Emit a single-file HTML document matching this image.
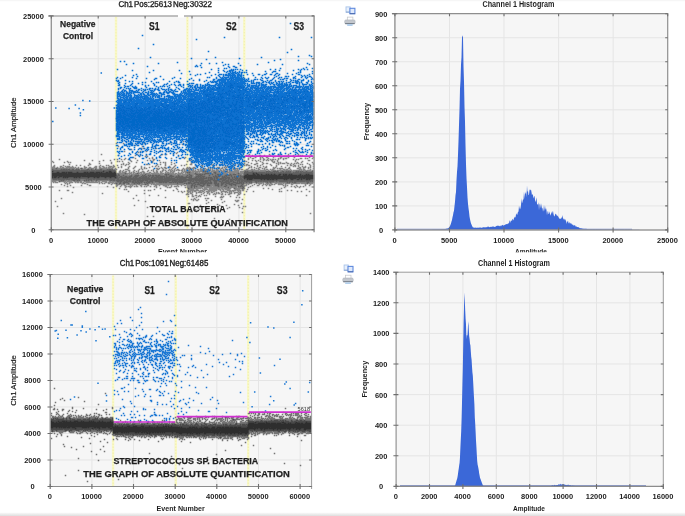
<!DOCTYPE html>
<html lang="en"><head><meta charset="utf-8"><title>ddPCR absolute quantification</title>
<style>html,body{margin:0;padding:0;background:#fff}body{width:685px;height:516px;overflow:hidden}svg{display:block}</style>
</head><body>
<svg width="685" height="516" viewBox="0 0 685 516" font-family='"Liberation Sans", Arial, sans-serif'><defs><filter id="b" x="-2%" y="-2%" width="104%" height="104%"><feGaussianBlur stdDeviation="0.45"/></filter><filter id="b2" x="-20%" y="-20%" width="140%" height="140%"><feGaussianBlur stdDeviation="0.6"/></filter><clipPath id="ct"><rect x="0" y="0" width="685" height="252.3"/></clipPath></defs>
<rect x="51.3" y="15.9" width="262.8" height="213.9" fill="#f6f6f6"/>
<path d="M98.2 15.9V229.8M145.1 15.9V229.8M192 15.9V229.8M238.9 15.9V229.8M285.8 15.9V229.8M51.3 187H314.1M51.3 144.2H314.1M51.3 101.5H314.1M51.3 58.7H314.1" stroke="#e5e5e5" stroke-width="1" fill="none"/>
<path d="M116 16.9V229.3" stroke="#fafac8" stroke-width="2.4" fill="none"/>
<path d="M116 16.9V229.3" stroke="#ede8a4" stroke-width="0.7" stroke-dasharray="1.5 1.5" fill="none"/>
<path d="M187.4 16.9V229.3" stroke="#fafac8" stroke-width="2.4" fill="none"/>
<path d="M187.4 16.9V229.3" stroke="#ede8a4" stroke-width="0.7" stroke-dasharray="1.5 1.5" fill="none"/>
<path d="M244.3 16.9V229.3" stroke="#fafac8" stroke-width="2.4" fill="none"/>
<path d="M244.3 16.9V229.3" stroke="#ede8a4" stroke-width="0.7" stroke-dasharray="1.5 1.5" fill="none"/>
<g filter="url(#b)">
<path d="M163.5 105.5h0M135.5 133.5h0M167.5 135.5h0M147.5 137.5h0M138.5 139.5h0M183.5 141.5h0M137.5 142.5h0m34 0h0M116.5 143.5h0m7 0h0m21 0h0m25 0h0M129.5 144.5h0m53 0h0M135.5 145.5h0M118.5 146.5h0m24 0h0M152.5 147.5h0M141.5 148.5h0m2 0h0m13 0h0M131.5 149.5h0M160.5 150.5h0M124.5 151.5h0m16 0h0m6 0h0m23 0h0m71 0h0M138.5 152.5h0m39 0h0M176.5 153.5h0M101.5 154.5h0m36 0h0m25 0h0m3 0h1m7 0h0m76 0h0m20 0h0m9 0h0m2 0h0m8 0h0m10 0h0m12 0h0M118.5 155.5h0m17 0h0m5 0h0m6 0h0m14 0h0m50 0h0m27 0h0m9 0h0m2 0h0m4 0h0m7 0h1m4 0h0m6 0h0m8 0h1m9 0h0m5 0h0m5 0h0m2 0h0m2 0h0m9 0h0M145.5 156.5h0m2 0h0m31 0h0m20 0h0m50 0h0m6 0h2m4 0h0m15 0h0m9 0h0m2 0h1m6 0h0m12 0h0M133.5 157.5h0m19 0h0m33 0h0m7 0h0m52 0h0m6 0h0m5 0h0m5 0h0m2 0h0m4 0h1m6 0h0m7 0h1m7 0h0m6 0h0m15 0h0m4 0h0M125.5 158.5h0m10 0h0m14 0h0m3 0h0m19 0h0m13 0h0m23 0h0m41 0h0m4 0h1m7 0h0m3 0h0m5 0h0m10 0h0m2 0h0m3 0h0m2 0h1m14 0h1m4 0h0m2 0h0m5 0h0M59.5 159.5h0m55 0h0m3 0h0m4 0h0m3 0h0m4 0h0m25 0h1m55 0h0m22 0h0m17 0h0m12 0h0m3 0h1m3 0h0m3 0h0m2 0h1m2 0h0m3 0h0m5 0h0m10 0h0m3 0h0m2 0h0M84.5 160.5h0m8 0h0m11 0h0m7 0h0m20 0h0m7 0h0m10 0h0m3 0h0m3 0h0m6 0h0m30 0h1m2 0h0m8 0h0m5 0h0m39 0h0m8 0h0m3 0h0m3 0h0m5 0h0m3 0h0m2 0h0m3 0h1m5 0h0m18 0h0m13 0h1M52.5 161.5h0m15 0h0m32 0h0m18 0h0m2 0h0m3 0h0m9 0h0m21 0h0m35 0h0m9 0h1m12 0h0m2 0h0m11 0h0m22 0h0m2 0h0m10 0h0m4 0h0m12 0h0m2 0h0m3 0h0m18 0h0m7 0h0M53.5 162.5h0m11 0h0m4 0h0m2 0h0m41 0h0m17 0h0m8 0h0m16 0h0m8 0h0m3 0h0m2 0h0m6 0h0m20 0h0m2 0h0m9 0h0m14 0h0m13 0h1m18 0h0m14 0h0m11 0h1m4 0h0m2 0h0m6 0h0m11 0h0m4 0h0m11 0h0M89.5 163.5h0m10 0h0m12 0h0m12 0h0m6 0h0m36 0h0m9 0h0m17 0h0m15 0h0m2 0h0m14 0h0m4 0h0m3 0h0m3 0h0m12 0h0m7 0h0m5 0h1m6 0h0m3 0h1m9 0h0m2 0h0m2 0h0m2 0h2m3 0h1m3 0h0m3 0h0m2 0h0m2 0h0m9 0h0m6 0h0M69.5 164.5h0m20 0h1m31 0h0m2 0h0m3 0h0m2 0h0m18 0h1m2 0h0m8 0h0m3 0h0m5 0h0m6 0h0m15 0h0m4 0h1m16 0h0m4 0h0m2 0h0m7 0h0m2 0h0m11 0h0m2 0h0m3 0h1m2 0h0m5 0h1m7 0h1m7 0h0m8 0h0m8 0h0m12 0h0m3 0h0m7 0h0m2 0h0m7 0h0m4 0h0M54.5 165.5h0m9 0h0m13 0h0m4 0h0m8 0h0m12 0h0m6 0h0m2 0h0m5 0h0m4 0h0m8 0h0m31 0h0m9 0h0m10 0h0m6 0h0m3 0h0m11 0h1m5 0h1m5 0h0m5 0h0m4 0h0m7 0h0m12 0h0m5 0h0m2 0h0m2 0h0m2 0h0m2 0h1m8 0h0m3 0h0m11 0h0m5 0h0m11 0h0m3 0h1m3 0h1m3 0h0m12 0h0M53.5 166.5h1m6 0h1m4 0h0m2 0h2m3 0h0m12 0h0m11 0h1m3 0h0m3 0h1m6 0h2m2 0h1m7 0h0m8 0h0m6 0h0m6 0h0m11 0h0m3 0h0m3 0h0m11 0h0m5 0h0m28 0h0m11 0h0m12 0h0m2 0h4m2 0h0m18 0h0m6 0h0m6 0h0m3 0h0m10 0h0m5 0h0m12 0h0m2 0h0m3 0h0m4 0h0m3 0h0m5 0h0m3 0h0M52.5 167.5h2m3 0h0m3 0h0m2 0h1m3 0h7m2 0h0m3 0h0m6 0h2m3 0h1m4 0h2m3 0h1m3 0h1m2 0h0m2 0h2m2 0h1m5 0h0m3 0h0m7 0h0m6 0h0m7 0h0m3 0h0m5 0h0m12 0h0m3 0h1m3 0h2m3 0h0m14 0h0m2 0h0m4 0h1m7 0h1m6 0h0m2 0h0m3 0h1m3 0h2m3 0h0m2 0h0m2 0h0m5 0h1m8 0h0m9 0h0m2 0h0m3 0h0m5 0h1m5 0h1m7 0h0m2 0h0m10 0h0m4 0h0m10 0h1m3 0h2m3 0h0m2 0h0M52.5 168.5h15m2 0h5m2 0h2m2 0h2m2 0h1m3 0h5m2 0h1m3 0h7m2 0h1m2 0h1m3 0h0m13 0h0m5 0h0m8 0h0m3 0h0m2 0h0m10 0h1m2 0h0m3 0h0m3 0h1m6 0h0m3 0h0m8 0h0m3 0h2m2 0h0m2 0h1m2 0h0m5 0h0m4 0h1m3 0h0m2 0h0m2 0h0m2 0h0m5 0h0m2 0h1m3 0h0m5 0h0m3 0h4m2 0h0m9 0h0m8 0h0m2 0h0m4 0h0m2 0h0m9 0h1m3 0h0m2 0h3m6 0h1m8 0h1m2 0h0m3 0h0m5 0h0m5 0h0M52.5 169.5h21m2 0h4m2 0h12m2 0h17m2 0h2m9 0h2m12 0h0m3 0h0m11 0h0m4 0h1m5 0h0m6 0h0m2 0h0m3 0h0m3 0h1m4 0h0m2 0h0m2 0h1m2 0h1m3 0h0m4 0h1m2 0h4m2 0h2m2 0h0m2 0h0m4 0h1m3 0h0m3 0h0m2 0h0m2 0h0m2 0h0m2 0h0m2 0h2m2 0h0m2 0h0m2 0h1m4 0h1m4 0h1m2 0h0m4 0h1m5 0h0m2 0h1m3 0h0m2 0h1m7 0h0m3 0h1m2 0h1m3 0h0m9 0h2m2 0h1m6 0h0M52.5 170.5h63m5 0h0m3 0h0m5 0h1m5 0h0m4 0h0m10 0h0m3 0h0m2 0h0m3 0h0m6 0h1m2 0h0m3 0h0m2 0h0m2 0h0m2 0h0m2 0h0m2 0h1m2 0h1m2 0h0m2 0h3m2 0h2m2 0h0m3 0h0m2 0h8m2 0h0m2 0h2m2 0h2m2 0h1m2 0h1m3 0h0m2 0h2m3 0h4m6 0h14m2 0h5m3 0h0m3 0h4m2 0h5m2 0h5m2 0h0m2 0h6m2 0h0m2 0h2m2 0h3m2 0h1M52.5 171.5h63m4 0h1m2 0h0m3 0h1m3 0h0m4 0h0m3 0h0m2 0h0m4 0h1m4 0h0m6 0h0m3 0h1m3 0h0m2 0h0m4 0h0m4 0h1m2 0h1m8 0h0m2 0h2m2 0h2m2 0h15m2 0h0m2 0h7m3 0h6m2 0h9m2 0h38m2 0h33M52.5 172.5h63m4 0h1m2 0h3m4 0h0m2 0h0m2 0h1m4 0h0m2 0h1m2 0h1m5 0h1m4 0h0m2 0h1m3 0h1m4 0h0m2 0h1m2 0h0m2 0h1m5 0h0m3 0h0m2 0h0m2 0h8m2 0h2m2 0h0m3 0h3m2 0h4m2 0h6m2 0h4m2 0h11m2 0h2m2 0h69M52.5 173.5h63m2 0h14m2 0h0m2 0h4m2 0h0m2 0h1m2 0h3m2 0h7m2 0h3m2 0h8m2 0h1m2 0h4m3 0h0m2 0h33m2 0h4m3 0h5m2 0h77M52.5 174.5h75m2 0h0m2 0h5m2 0h0m2 0h3m2 0h5m2 0h10m2 0h11m2 0h3m2 0h38m2 0h5m2 0h12m2 0h70M52.5 175.5h67m2 0h19m2 0h51m2 0h118M52.5 176.5h261M52.5 177.5h139m2 0h26m2 0h92M52.5 178.5h134m2 0h125M52.5 179.5h261M52.5 180.5h14m2 0h245M52.5 181.5h3m4 0h6m2 0h4m3 0h4m2 0h1m3 0h5m2 0h2m2 0h1m2 0h1m3 0h4m3 0h1m2 0h201M53.5 182.5h0m2 0h2m7 0h0m2 0h0m3 0h3m3 0h0m2 0h1m2 0h1m2 0h0m3 0h11m2 0h0m2 0h0m4 0h1m2 0h5m2 0h31m2 0h89m2 0h24m2 0h48M65.5 183.5h0m2 0h0m2 0h0m13 0h0m2 0h1m14 0h0m3 0h0m2 0h0m4 0h1m3 0h0m2 0h3m2 0h5m2 0h3m2 0h11m2 0h10m2 0h95m5 0h0m2 0h3m2 0h0m3 0h2m2 0h1m4 0h1m2 0h3m2 0h0m2 0h4m2 0h0m2 0h6m2 0h6m2 0h3M61.5 184.5h0m6 0h0m20 0h0m24 0h0m5 0h3m2 0h3m2 0h10m2 0h1m2 0h7m3 0h0m2 0h30m3 0h57m3 0h0m2 0h0m6 0h0m5 0h0m4 0h0m2 0h0m2 0h0m2 0h0m2 0h1m2 0h0m4 0h4m3 0h0m6 0h1m13 0h0m5 0h0M64.5 185.5h0m6 0h0m11 0h0m8 0h1m26 0h1m4 0h0m3 0h1m5 0h0m2 0h0m4 0h0m4 0h1m6 0h1m7 0h1m3 0h0m4 0h3m2 0h0m3 0h0m6 0h0m4 0h0m3 0h1m2 0h59m6 0h0m5 0h1m4 0h0m4 0h0m3 0h1m13 0h0m2 0h0m2 0h0m9 0h0m9 0h0m4 0h0M67.5 186.5h0m40 0h0m9 0h0m4 0h0m5 0h1m2 0h3m3 0h0m2 0h1m4 0h0m3 0h0m2 0h0m4 0h0m4 0h0m2 0h0m9 0h1m5 0h0m3 0h2m2 0h0m9 0h17m2 0h5m2 0h23m2 0h6m6 0h0m35 0h0m6 0h0m3 0h0m3 0h0m3 0h0m3 0h0M73.5 187.5h0m40 0h0m12 0h0m5 0h0m26 0h0m11 0h0m2 0h1m15 0h0m2 0h5m2 0h0m2 0h5m3 0h19m2 0h3m2 0h6m2 0h5m5 0h0m36 0h0m11 0h0m4 0h0M119.5 188.5h0m41 0h0m16 0h0m12 0h12m2 0h0m2 0h2m3 0h10m2 0h1m2 0h6m4 0h10m19 0h0m5 0h0m13 0h0M124.5 189.5h0m2 0h0m28 0h0m23 0h0m11 0h5m3 0h1m6 0h4m2 0h7m2 0h2m2 0h1m2 0h4m6 0h4m3 0h1m4 0h0m25 0h0m7 0h0m27 0h0M59.5 190.5h0m8 0h1m76 0h0m4 0h0m2 0h0m15 0h0m8 0h0m14 0h1m2 0h8m2 0h2m2 0h0m4 0h8m4 0h0m3 0h0m4 0h3m2 0h3m2 0h3m2 0h1m44 0h0m4 0h0M128.5 191.5h0m50 0h0m3 0h0m3 0h0m3 0h3m2 0h0m2 0h1m4 0h1m2 0h1m3 0h3m2 0h0m2 0h1m7 0h5m3 0h2m2 0h0m5 0h0m2 0h0m6 0h0m7 0h0m26 0h0m2 0h0m16 0h0m4 0h0m8 0h0M72.5 192.5h0m110 0h0m6 0h0m2 0h0m2 0h0m4 0h0m2 0h3m3 0h0m3 0h1m3 0h1m4 0h0m2 0h0m3 0h0m4 0h0m2 0h0m2 0h0m2 0h0m3 0h3m2 0h1M102.5 193.5h0m42 0h0m43 0h0m3 0h1m5 0h0m7 0h0m4 0h0m2 0h0m5 0h0m2 0h0m2 0h1m3 0h0m7 0h2m3 0h0m4 0h0m2 0h0M186.5 194.5h2m4 0h0m9 0h0m8 0h0m4 0h0m2 0h0m6 0h1m3 0h0m3 0h1m9 0h1m5 0h0M136.5 195.5h0m13 0h0m9 0h0m34 0h0m3 0h1m3 0h0m5 0h0m2 0h0m31 0h0m69 0h0M188.5 196.5h0m4 0h1m5 0h0m2 0h0m15 0h0m6 0h0m2 0h0m7 0h0M165.5 197.5h0m31 0h0m24 0h2m14 0h0m3 0h0M61.5 198.5h0m72 0h0m61 0h0m11 0h0m2 0h1M191.5 199.5h0m2 0h0m2 0h0m3 0h0m23 0h0m21 0h0M138.5 200.5h0m55 0h0m3 0h1m9 0h0m5 0h0m24 0h0m2 0h1M55.5 201.5h0m90 0h0m79 0h0m12 0h1M208.5 202.5h0m14 0h0M188.5 203.5h1m17 0h0m35 0h0M217.5 204.5h0m17 0h0M134.5 205.5h0m66 0h0m19 0h0m7 0h0m12 0h0M57.5 206.5h0m137 0h0m3 0h0m17 0h0m7 0h0m22 0h0m2 0h0M147.5 207.5h0m65 0h0m17 0h0m10 0h0M198.5 208.5h0m29 0h0m15 0h0M195.5 209.5h0m4 0h0m24 0h0M211.5 210.5h0m7 0h0M190.5 211.5h0M242.5 212.5h0M63.5 213.5h0m247 0h0M84.5 214.5h0M147.5 216.5h0m6 0h0M214.5 218.5h0M229.5 219.5h0M132.5 222.5h0m17 0h0m28 0h0M241.5 223.5h0M191.5 224.5h0M274.5 225.5h0" stroke="#868686" stroke-width="1.6" stroke-linecap="square" fill="none"/>
<path d="M56.5 168.5h0m25 0h0m109 0h0M52.5 169.5h0m9 0h0m2 0h1m2 0h0m2 0h1m3 0h1m3 0h0m2 0h0m9 0h1m3 0h0m4 0h0m5 0h1m6 0h0m2 0h1m2 0h0M53.5 170.5h14m2 0h10m2 0h6m2 0h0m2 0h3m2 0h5m2 0h11M52.5 171.5h63m88 0h0m2 0h0m2 0h0m19 0h0m19 0h0m2 0h0m5 0h0m14 0h1m2 0h0m4 0h2m2 0h0m5 0h1m3 0h0m2 0h0m2 0h0m6 0h0m2 0h0m2 0h0m2 0h0m4 0h0m6 0h0M52.5 172.5h63m72 0h0m2 0h0m25 0h1m29 0h12m2 0h6m2 0h0m2 0h0m2 0h2m2 0h0m2 0h0m2 0h0m2 0h1m2 0h0m2 0h5m3 0h0m2 0h3m2 0h1m2 0h8m2 0h0M52.5 173.5h63m10 0h0m12 0h0m58 0h0m10 0h3m2 0h0m5 0h0m23 0h0m6 0h69M52.5 174.5h63m3 0h0m27 0h0m20 0h1m2 0h0m21 0h0m7 0h1m2 0h1m2 0h0m2 0h0m8 0h0m5 0h1m2 0h0m7 0h0m3 0h0m3 0h2m9 0h69M52.5 175.5h64m2 0h1m4 0h0m8 0h0m4 0h3m4 0h0m2 0h0m4 0h0m2 0h0m2 0h1m2 0h1m2 0h1m7 0h0m4 0h1m7 0h0m9 0h0m3 0h1m7 0h0m2 0h1m8 0h0m6 0h0m3 0h0m2 0h0m5 0h1m2 0h1m2 0h0m7 0h0m2 0h0m4 0h69M52.5 176.5h65m3 0h1m4 0h1m3 0h2m3 0h3m4 0h0m2 0h0m2 0h1m3 0h0m3 0h1m3 0h2m2 0h4m2 0h0m3 0h4m3 0h0m2 0h1m2 0h1m4 0h0m3 0h0m2 0h0m5 0h4m2 0h2m9 0h0m2 0h1m2 0h1m3 0h0m2 0h0m2 0h0m5 0h0m3 0h0m2 0h0m2 0h0m2 0h73M52.5 177.5h65m2 0h0m2 0h9m3 0h0m2 0h1m3 0h1m2 0h4m2 0h0m3 0h1m2 0h8m2 0h0m2 0h3m2 0h0m4 0h16m4 0h1m2 0h0m2 0h1m2 0h0m3 0h0m2 0h3m3 0h0m2 0h1m5 0h3m2 0h2m3 0h0m2 0h0m2 0h1m3 0h0m2 0h71M52.5 178.5h15m2 0h19m2 0h28m3 0h4m2 0h22m2 0h0m2 0h3m2 0h4m2 0h10m3 0h0m2 0h6m4 0h8m2 0h7m2 0h0m2 0h2m2 0h0m2 0h1m3 0h3m2 0h1m2 0h1m3 0h0m3 0h2m2 0h2m3 0h69M53.5 179.5h3m2 0h6m2 0h3m2 0h5m2 0h1m7 0h0m2 0h3m2 0h1m2 0h11m2 0h5m3 0h1m2 0h7m2 0h11m2 0h61m5 0h0m2 0h2m2 0h0m3 0h4m2 0h2m3 0h0m2 0h1m2 0h1m2 0h0m2 0h4m2 0h69M61.5 180.5h0m2 0h0m10 0h1m3 0h0m2 0h0m5 0h0m2 0h0m2 0h0m3 0h0m5 0h0m14 0h1m2 0h1m2 0h7m3 0h1m2 0h1m3 0h2m2 0h6m2 0h2m3 0h12m2 0h6m2 0h5m2 0h2m2 0h3m2 0h3m2 0h0m2 0h8m2 0h5m3 0h5m4 0h2m2 0h2m2 0h2m3 0h0m2 0h2m2 0h72M59.5 181.5h0m58 0h1m2 0h1m3 0h0m2 0h0m2 0h2m2 0h1m2 0h0m2 0h1m2 0h2m5 0h0m2 0h3m3 0h13m4 0h0m2 0h2m2 0h7m5 0h0m2 0h1m3 0h0m3 0h0m2 0h6m3 0h0m4 0h2m3 0h1m2 0h0m3 0h3m2 0h1m2 0h0m4 0h0m2 0h0m2 0h1m2 0h7m4 0h1m2 0h0m2 0h1m2 0h4m2 0h4m3 0h0m3 0h8m2 0h3m2 0h10m2 0h2m2 0h0m2 0h0M120.5 182.5h0m3 0h4m5 0h1m2 0h1m2 0h1m2 0h0m3 0h0m2 0h0m2 0h1m3 0h0m7 0h2m2 0h0m2 0h1m3 0h2m2 0h0m2 0h0m2 0h0m2 0h3m6 0h2m4 0h4m2 0h3m2 0h1m2 0h0m2 0h1m3 0h2m5 0h0m2 0h3m2 0h1m4 0h2m2 0h0m2 0h2m2 0h0m3 0h0m3 0h0m2 0h0m5 0h0m11 0h0m3 0h0m17 0h0m2 0h0m3 0h0m2 0h1m12 0h1M116.5 183.5h0m3 0h1m3 0h1m4 0h0m6 0h0m3 0h0m2 0h0m8 0h0m30 0h0m7 0h0m2 0h0m2 0h1m2 0h0m2 0h1m4 0h0m2 0h5m2 0h4m3 0h2m2 0h0m3 0h2m3 0h3m2 0h1m4 0h3m2 0h0m2 0h0m64 0h0M145.5 184.5h0m47 0h0m3 0h0m2 0h2m4 0h1m3 0h0m8 0h0m2 0h1m3 0h1m3 0h0m4 0h2m2 0h2m7 0h0M191.5 185.5h1m2 0h0m6 0h1m2 0h0m4 0h2m6 0h3m3 0h0m5 0h0m5 0h0m4 0h0m6 0h0M191.5 186.5h0m3 0h0m2 0h0m6 0h0m16 0h0m6 0h1m13 0h0m2 0h0m2 0h0M191.5 187.5h0m3 0h0m34 0h0m15 0h0M188.5 188.5h0m46 0h0m8 0h0" stroke="#606060" stroke-width="1.6" stroke-linecap="square" fill="none"/>
<path d="M52.5 171.5h0m51 0h0m6 0h1M57.5 172.5h1m4 0h2m2 0h0m2 0h3m6 0h0m7 0h1m2 0h0m3 0h3m3 0h3m2 0h0m5 0h1m2 0h2m3 0h0M52.5 173.5h14m2 0h29m2 0h16m138 0h0m3 0h0M52.5 174.5h63m132 0h0m6 0h1m3 0h1m3 0h0m5 0h0m2 0h0m3 0h0m3 0h0m5 0h1m3 0h0m2 0h1m3 0h0m2 0h0m9 0h0m6 0h0m2 0h0M52.5 175.5h33m2 0h28m130 0h1m2 0h7m2 0h2m2 0h15m2 0h1m4 0h3m2 0h8m2 0h2m2 0h0m2 0h9M52.5 176.5h0m2 0h2m3 0h2m2 0h17m2 0h17m2 0h13m130 0h69M52.5 177.5h0m2 0h1m3 0h0m5 0h0m2 0h0m2 0h0m7 0h0m2 0h0m3 0h0m9 0h0m6 0h0m3 0h1m7 0h0m5 0h0m5 0h0m129 0h38m2 0h29M244.5 178.5h0m3 0h5m2 0h15m2 0h17m2 0h5m4 0h0m2 0h0m2 0h1m2 0h7M247.5 179.5h0m2 0h2m10 0h0m3 0h0m3 0h1m2 0h0m2 0h1m3 0h0m8 0h0m2 0h0m5 0h1m5 0h1m3 0h0m5 0h1m2 0h0" stroke="#383838" stroke-width="1.6" stroke-linecap="square" fill="none"/>
<path d="M290.5 23.5h0M142.5 35.5h0M224.5 37.5h0m55 0h0m32 0h0M196.5 39.5h0M153.5 44.5h0M138.5 48.5h0M291.5 49.5h0M208.5 51.5h0M287.5 52.5h0M309.5 55.5h0M298.5 56.5h0m13 0h0M150.5 57.5h0m65 0h0m46 0h0M191.5 58.5h0m48 0h0M206.5 59.5h0m74 0h0M274.5 60.5h0m24 0h0M120.5 61.5h0m4 0h0M177.5 62.5h0m45 0h0m46 0h0M133.5 63.5h0m25 0h0m43 0h0m8 0h0m7 0h0m22 0h0m69 0h0M126.5 64.5h0m99 0h0m3 0h0m29 0h0m25 0h0m27 0h0M196.5 65.5h0m4 0h0m23 0h0m17 0h0M147.5 66.5h0m48 0h0m2 0h0m31 0h0m5 0h1M201.5 67.5h0m28 0h0m6 0h1m70 0h0M218.5 68.5h0m6 0h0m2 0h0m54 0h0m23 0h0m9 0h0M117.5 69.5h0m94 0h0m20 0h0m2 0h0m2 0h0m2 0h0m3 0h0m30 0h0m5 0h0m23 0h0m3 0h0m3 0h0m3 0h0M132.5 70.5h0m21 0h0m26 0h0m39 0h0m5 0h0m6 0h4m9 0h0m4 0h0m33 0h0m14 0h0m7 0h0M189.5 71.5h0m35 0h0m3 0h0m2 0h1m2 0h0m3 0h0m4 0h0m26 0h0m8 0h2m25 0h0m12 0h0M149.5 72.5h0m60 0h0m9 0h0m8 0h0m4 0h0m2 0h3m2 0h0m2 0h0m2 0h1m2 0h0m2 0h0m26 0h0m26 0h0m2 0h0M181.5 73.5h0m24 0h0m23 0h1m2 0h2m2 0h1m2 0h0m3 0h0m11 0h0m14 0h0m10 0h1m10 0h0m9 0h0m16 0h0M136.5 74.5h0m54 0h0m7 0h0m3 0h0m15 0h0m4 0h2m2 0h0m2 0h1m2 0h2m2 0h2m3 0h2m2 0h0m6 0h0m11 0h1m5 0h1m5 0h1m4 0h0m4 0h0m13 0h0m6 0h1m10 0h0M125.5 75.5h0m8 0h0m62 0h0m16 0h0m7 0h0m5 0h0m2 0h10m2 0h4m2 0h0m10 0h0m9 0h0m12 0h0m4 0h0m23 0h0m3 0h0m3 0h0M137.5 76.5h0m23 0h0m59 0h0m4 0h0m5 0h0m2 0h0m2 0h0m2 0h1m2 0h1m2 0h1m35 0h0m9 0h1m2 0h0m7 0h0m7 0h0m3 0h0m4 0h1M117.5 77.5h0m5 0h0m10 0h0m42 0h0m33 0h0m2 0h0m7 0h0m4 0h0m2 0h0m2 0h4m2 0h9m2 0h0m2 0h0m12 0h0m6 0h0m4 0h0m3 0h0m6 0h0m5 0h0m2 0h0m12 0h1m7 0h0m4 0h0m2 0h0m4 0h0M116.5 78.5h0m4 0h0m16 0h0m10 0h0m9 0h1m16 0h0m8 0h0m11 0h0m25 0h0m5 0h2m2 0h1m3 0h4m2 0h7m2 0h0m4 0h0m14 0h0m4 0h1m6 0h0m5 0h0m6 0h0m2 0h1m6 0h0m2 0h0m11 0h0m6 0h0M154.5 79.5h0m9 0h0m26 0h0m10 0h0m14 0h1m4 0h11m2 0h0m2 0h11m2 0h0m2 0h0m6 0h1m2 0h0m3 0h0m12 0h0m8 0h0m2 0h1m7 0h0m8 0h1m4 0h0m8 0h0m2 0h0M116.5 80.5h0m2 0h0m7 0h0m68 0h0m6 0h0m7 0h0m7 0h0m4 0h8m2 0h1m2 0h3m2 0h7m2 0h1m2 0h0m4 0h0m2 0h0m8 0h1m5 0h0m3 0h1m4 0h0m11 0h0m5 0h0m2 0h0m2 0h0m2 0h0m4 0h2m5 0h0M117.5 81.5h1m11 0h0m3 0h0m19 0h0m18 0h0m7 0h0m2 0h0m9 0h0m17 0h0m6 0h0m2 0h0m2 0h3m2 0h0m2 0h4m2 0h11m2 0h6m2 0h1m2 0h0m2 0h0m10 0h0m2 0h0m4 0h0m6 0h0m3 0h1m2 0h0m2 0h0m7 0h0m5 0h3m3 0h0m7 0h0m3 0h0M119.5 82.5h0m23 0h0m3 0h0m11 0h0m2 0h0m16 0h0m4 0h1m29 0h0m3 0h2m2 0h1m3 0h17m2 0h6m7 0h0m2 0h0m3 0h3m3 0h1m3 0h0m2 0h1m2 0h0m2 0h0m3 0h0m3 0h0m3 0h0m4 0h0m2 0h1m3 0h1m2 0h2m2 0h0m2 0h0m5 0h1m4 0h0M118.5 83.5h0m7 0h0m7 0h0m6 0h0m15 0h0m14 0h0m22 0h0m2 0h2m14 0h0m9 0h1m2 0h3m2 0h21m2 0h0m4 0h3m2 0h0m2 0h1m2 0h0m8 0h0m2 0h1m4 0h1m2 0h0m2 0h1m2 0h0m2 0h0m4 0h0m6 0h1m2 0h0m3 0h0m5 0h0m5 0h1M119.5 84.5h0m12 0h0m11 0h0m12 0h0m10 0h0m2 0h0m5 0h0m3 0h0m5 0h1m3 0h0m4 0h1m8 0h1m3 0h0m5 0h0m2 0h2m6 0h1m2 0h2m2 0h0m2 0h18m2 0h0m3 0h0m2 0h0m7 0h0m3 0h0m2 0h2m2 0h1m4 0h0m3 0h1m2 0h0m2 0h4m2 0h3m2 0h1m9 0h0m3 0h4m3 0h0m2 0h0M118.5 85.5h1m5 0h0m6 0h0m15 0h0m3 0h0m6 0h0m9 0h0m6 0h0m6 0h0m3 0h0m2 0h0m3 0h0m6 0h1m2 0h0m3 0h0m2 0h0m3 0h0m2 0h1m2 0h2m2 0h6m2 0h26m2 0h0m2 0h2m2 0h5m2 0h1m2 0h4m9 0h0m3 0h2m2 0h6m2 0h0m2 0h0m2 0h3m3 0h0m4 0h0m6 0h1m2 0h0M125.5 86.5h0m2 0h1m4 0h0m3 0h0m10 0h0m11 0h0m4 0h0m2 0h0m2 0h0m3 0h0m14 0h0m7 0h0m2 0h1m3 0h1m2 0h0m3 0h0m2 0h0m2 0h1m3 0h1m2 0h0m2 0h2m3 0h3m2 0h1m2 0h18m3 0h2m2 0h2m2 0h3m3 0h0m2 0h3m2 0h0m2 0h5m3 0h6m2 0h0m2 0h3m2 0h0m3 0h5m2 0h0m2 0h3m2 0h1m2 0h0M120.5 87.5h1m3 0h0m9 0h3m10 0h0m12 0h0m11 0h0m7 0h0m7 0h0m7 0h0m2 0h0m2 0h1m2 0h8m2 0h3m2 0h1m2 0h18m2 0h9m2 0h1m3 0h5m2 0h1m2 0h5m2 0h4m2 0h10m3 0h3m3 0h1m2 0h5m2 0h0m2 0h4m2 0h0m2 0h1M118.5 88.5h0m2 0h0m6 0h0m2 0h0m2 0h0m4 0h2m5 0h0m8 0h1m2 0h0m3 0h0m3 0h0m3 0h0m7 0h0m10 0h0m8 0h1m2 0h0m3 0h0m3 0h1m3 0h3m2 0h1m2 0h1m2 0h4m2 0h14m2 0h5m2 0h4m2 0h1m2 0h0m2 0h2m2 0h8m2 0h0m2 0h5m2 0h0m3 0h2m2 0h2m2 0h4m2 0h0m2 0h0m3 0h0m4 0h0m3 0h2m2 0h2m2 0h1m2 0h0M118.5 89.5h0m5 0h0m6 0h0m9 0h1m4 0h0m2 0h0m2 0h0m2 0h0m5 0h1m2 0h1m4 0h2m2 0h0m2 0h0m2 0h1m4 0h0m4 0h0m5 0h2m2 0h3m2 0h0m2 0h1m2 0h0m2 0h0m3 0h1m2 0h23m2 0h1m2 0h5m3 0h8m2 0h0m3 0h3m2 0h0m2 0h1m2 0h3m2 0h2m2 0h7m2 0h1m2 0h1m2 0h3m2 0h2m2 0h8m2 0h2m2 0h0M122.5 90.5h0m2 0h1m4 0h3m4 0h0m2 0h0m3 0h0m3 0h1m5 0h2m2 0h0m4 0h1m6 0h0m3 0h0m3 0h1m2 0h0m9 0h2m2 0h2m2 0h0m3 0h4m2 0h11m2 0h33m3 0h2m2 0h10m2 0h2m2 0h4m2 0h0m2 0h1m2 0h0m2 0h2m2 0h0m2 0h1m2 0h7m2 0h1m2 0h4m3 0h2M118.5 91.5h0m3 0h1m2 0h0m2 0h0m3 0h0m2 0h4m2 0h0m6 0h0m5 0h0m3 0h0m2 0h0m11 0h0m2 0h0m3 0h1m3 0h0m2 0h2m4 0h0m2 0h0m2 0h0m2 0h7m5 0h8m2 0h4m4 0h35m2 0h0m2 0h3m2 0h7m2 0h0m4 0h9m4 0h21m2 0h2M117.5 92.5h1m2 0h0m2 0h1m3 0h1m2 0h2m2 0h6m3 0h0m3 0h1m2 0h0m2 0h2m7 0h1m3 0h1m2 0h3m2 0h2m8 0h0m2 0h3m2 0h2m3 0h4m2 0h0m2 0h0m2 0h20m2 0h24m2 0h15m2 0h10m2 0h2m2 0h12m2 0h15M117.5 93.5h2m2 0h0m2 0h1m2 0h3m2 0h0m2 0h0m7 0h1m2 0h0m4 0h1m3 0h3m2 0h0m3 0h2m2 0h0m4 0h1m4 0h2m6 0h0m2 0h0m2 0h50m2 0h8m2 0h6m2 0h3m2 0h10m4 0h1m2 0h24m2 0h7m2 0h2M117.5 94.5h3m2 0h2m2 0h0m2 0h0m2 0h0m4 0h0m4 0h0m2 0h1m2 0h1m3 0h1m2 0h5m2 0h0m4 0h3m9 0h4m2 0h2m3 0h0m2 0h11m2 0h1m2 0h11m2 0h28m2 0h5m2 0h19m2 0h3m2 0h8m2 0h1m2 0h5m2 0h1m2 0h2m2 0h8M117.5 95.5h0m2 0h0m2 0h5m2 0h3m3 0h3m2 0h0m2 0h0m3 0h2m2 0h1m3 0h2m2 0h0m2 0h1m2 0h0m6 0h2m5 0h1m2 0h6m2 0h1m2 0h6m2 0h5m2 0h12m2 0h39m2 0h5m2 0h2m2 0h33m2 0h6m2 0h1M117.5 96.5h3m3 0h1m2 0h2m2 0h1m3 0h0m2 0h2m2 0h7m3 0h0m2 0h1m2 0h0m2 0h2m2 0h0m3 0h0m2 0h6m2 0h6m2 0h3m2 0h14m2 0h23m2 0h16m2 0h1m2 0h36m2 0h3m2 0h5m2 0h14M117.5 97.5h0m3 0h3m2 0h2m2 0h2m2 0h9m2 0h4m2 0h0m2 0h0m3 0h0m2 0h2m5 0h0m4 0h5m2 0h1m2 0h3m2 0h3m2 0h0m2 0h2m2 0h12m2 0h35m2 0h24m2 0h0m2 0h14m2 0h8m2 0h14M117.5 98.5h1m2 0h0m3 0h1m2 0h1m2 0h4m2 0h3m2 0h0m2 0h9m2 0h0m6 0h5m2 0h0m2 0h0m2 0h6m2 0h3m2 0h2m2 0h48m2 0h14m2 0h1m2 0h25m2 0h29M118.5 99.5h4m2 0h10m2 0h5m2 0h10m2 0h15m2 0h0m2 0h0m2 0h25m2 0h21m2 0h17m2 0h18m2 0h16m2 0h30M117.5 100.5h14m2 0h10m2 0h3m2 0h9m2 0h11m2 0h6m2 0h1m3 0h12m2 0h17m2 0h34m2 0h4m2 0h0m2 0h3m2 0h35m3 0h7M116.5 101.5h0m2 0h3m2 0h3m2 0h30m2 0h7m2 0h2m2 0h2m2 0h2m2 0h1m2 0h0m2 0h12m2 0h11m2 0h99M117.5 102.5h4m2 0h6m2 0h3m2 0h9m2 0h0m2 0h4m2 0h6m3 0h10m2 0h9m2 0h88m2 0h36M118.5 103.5h48m3 0h10m2 0h1m2 0h11m2 0h92m2 0h22M117.5 104.5h20m2 0h39m2 0h70m2 0h20m2 0h5m2 0h4m2 0h0m2 0h2m2 0h2m2 0h0m2 0h8m2 0h4M116.5 105.5h7m2 0h5m2 0h43m2 0h81m2 0h0m2 0h38m2 0h11M117.5 106.5h42m3 0h93m3 0h2m2 0h2m2 0h0m2 0h12m2 0h3m2 0h26M116.5 107.5h25m2 0h3m2 0h7m2 0h4m2 0h21m2 0h57m2 0h9m2 0h42m2 0h7m2 0h3M116.5 108.5h26m2 0h33m2 0h44m2 0h4m2 0h8m2 0h24m2 0h33m2 0h5m2 0h4M117.5 109.5h52m2 0h88m2 0h7m2 0h11m2 0h6m2 0h3m2 0h5m2 0h10M116.5 110.5h138m2 0h7m2 0h7m2 0h9m2 0h12m2 0h1m2 0h11M116.5 111.5h56m2 0h44m2 0h5m2 0h19m2 0h6m2 0h8m2 0h26m2 0h3m2 0h14M116.5 112.5h0m2 0h93m2 0h40m2 0h2m2 0h13m2 0h18m2 0h16m2 0h1M116.5 113.5h175m2 0h4m2 0h5m2 0h0m2 0h0m3 0h2M116.5 114.5h90m2 0h33m2 0h0m2 0h5m2 0h9m2 0h9m2 0h4m2 0h1m2 0h0m4 0h4m2 0h10m2 0h3m2 0h0m2 0h1M116.5 115.5h72m2 0h55m3 0h1m2 0h6m2 0h23m2 0h3m2 0h7m2 0h4m2 0h0m2 0h1m2 0h1m2 0h0M116.5 116.5h107m2 0h22m2 0h7m2 0h5m3 0h6m2 0h2m2 0h16m2 0h3m2 0h2m2 0h6m2 0h0M116.5 117.5h134m2 0h18m2 0h9m2 0h11m2 0h2m2 0h11m2 0h0M116.5 118.5h110m2 0h15m2 0h15m2 0h7m2 0h28m2 0h0m2 0h10M116.5 119.5h105m2 0h28m2 0h0m2 0h6m2 0h1m2 0h1m2 0h8m2 0h16m2 0h5m3 0h6m2 0h0M116.5 120.5h125m2 0h5m2 0h5m2 0h0m2 0h2m2 0h1m2 0h8m2 0h3m3 0h6m3 0h18m3 0h0M116.5 121.5h93m2 0h33m2 0h3m4 0h2m2 0h5m2 0h1m2 0h3m2 0h11m2 0h8m2 0h1m2 0h1m2 0h0m3 0h3m3 0h2M117.5 122.5h93m2 0h6m2 0h30m3 0h5m2 0h2m2 0h11m2 0h2m2 0h9m2 0h0m2 0h13m2 0h4M116.5 123.5h37m2 0h90m2 0h2m2 0h4m2 0h0m2 0h3m2 0h6m3 0h1m3 0h0m2 0h6m2 0h3m2 0h4m2 0h0m3 0h3m2 0h4m3 0h0M116.5 124.5h122m2 0h1m2 0h0m3 0h0m3 0h3m2 0h3m2 0h0m2 0h2m2 0h3m3 0h0m4 0h6m3 0h4m2 0h4m2 0h1m2 0h2m2 0h2m2 0h0m2 0h0m3 0h1M116.5 125.5h128m2 0h3m2 0h4m3 0h3m2 0h0m2 0h1m4 0h4m2 0h6m2 0h1m3 0h7m4 0h1m2 0h1m3 0h1m2 0h1m2 0h0M116.5 126.5h82m2 0h52m2 0h3m2 0h6m2 0h5m3 0h1m2 0h1m4 0h3m3 0h2m2 0h2m3 0h1m3 0h2m2 0h0m2 0h0m4 0h0M116.5 127.5h4m2 0h64m2 0h23m2 0h38m3 0h0m2 0h6m3 0h1m5 0h1m2 0h0m2 0h0m4 0h0m3 0h0m2 0h0m3 0h0m2 0h3m2 0h1m2 0h2m4 0h0m2 0h0m2 0h1m3 0h0M116.5 128.5h128m2 0h3m2 0h1m2 0h1m2 0h1m3 0h3m2 0h0m3 0h0m2 0h0m5 0h2m2 0h4m3 0h2m3 0h0m2 0h1m2 0h1m2 0h0m2 0h0m2 0h4m4 0h0M116.5 129.5h12m2 0h8m2 0h104m2 0h3m2 0h0m2 0h1m6 0h0m3 0h0m7 0h0m2 0h0m2 0h0m2 0h2m3 0h0m2 0h2m4 0h4m4 0h1m5 0h1m3 0h0m3 0h1M116.5 130.5h0m2 0h36m2 0h21m2 0h64m3 0h0m2 0h1m2 0h0m2 0h0m2 0h0m2 0h6m2 0h0m2 0h0m3 0h1m5 0h1m3 0h1m4 0h0m6 0h2m2 0h0m2 0h0m3 0h0m4 0h0m3 0h0m2 0h0M117.5 131.5h3m2 0h13m2 0h9m2 0h38m2 0h56m2 0h1m3 0h5m2 0h1m2 0h0m2 0h0m2 0h2m2 0h1m3 0h0m2 0h1m2 0h0m2 0h4m5 0h0m2 0h2m10 0h0m2 0h0m2 0h0m5 0h1M117.5 132.5h5m2 0h6m2 0h4m2 0h0m2 0h23m2 0h9m2 0h67m5 0h0m4 0h2m2 0h0m4 0h1m2 0h2m2 0h0m9 0h1m4 0h4m2 0h0m6 0h0m3 0h2m3 0h0m2 0h1m2 0h0m3 0h0M117.5 133.5h1m3 0h3m2 0h1m2 0h7m2 0h4m2 0h3m2 0h2m2 0h2m2 0h9m2 0h10m2 0h59m2 0h3m3 0h1m2 0h0m2 0h0m2 0h0m2 0h0m4 0h0m2 0h1m2 0h0m3 0h0m3 0h0m4 0h0m2 0h0m3 0h2m4 0h0m2 0h0m2 0h1m3 0h1m3 0h0m3 0h1m2 0h0m2 0h0m3 0h0M117.5 134.5h2m2 0h3m2 0h6m3 0h9m2 0h0m2 0h8m2 0h0m3 0h1m2 0h0m2 0h5m2 0h1m2 0h9m3 0h28m2 0h25m3 0h2m2 0h1m5 0h1m2 0h1m2 0h0m6 0h1m2 0h0m2 0h2m2 0h4m8 0h1m6 0h1m3 0h1m3 0h0m5 0h0m2 0h0M116.5 135.5h2m4 0h10m2 0h1m3 0h1m4 0h0m2 0h4m2 0h0m2 0h11m3 0h3m3 0h0m3 0h0m4 0h0m2 0h30m2 0h30m6 0h0m3 0h0m3 0h1m4 0h0m11 0h0m3 0h0m4 0h0m3 0h0m4 0h2m4 0h0m2 0h0m2 0h2m3 0h0m3 0h1m2 0h0m4 0h0M116.5 136.5h3m2 0h2m4 0h0m2 0h1m2 0h7m2 0h2m3 0h0m2 0h2m2 0h0m2 0h0m2 0h3m3 0h0m2 0h0m2 0h0m2 0h0m2 0h10m2 0h56m2 0h3m2 0h0m4 0h0m4 0h1m2 0h1m7 0h0m6 0h0m3 0h1m2 0h0m4 0h0m3 0h0m6 0h0m5 0h0m12 0h0M119.5 137.5h0m2 0h3m2 0h1m2 0h5m2 0h0m2 0h1m4 0h0m2 0h3m2 0h1m2 0h2m2 0h3m2 0h1m2 0h5m4 0h3m2 0h0m2 0h0m3 0h0m4 0h29m2 0h15m2 0h8m2 0h0m4 0h0m2 0h0m2 0h0m4 0h0m3 0h2m5 0h0m2 0h0m3 0h0m6 0h1m5 0h1m5 0h0m6 0h0m3 0h0m2 0h0m2 0h0m4 0h0m2 0h0m2 0h0M117.5 138.5h2m2 0h0m3 0h1m3 0h1m2 0h6m3 0h0m4 0h3m2 0h0m2 0h1m8 0h1m2 0h3m4 0h1m2 0h1m2 0h0m2 0h1m3 0h0m4 0h0m2 0h41m2 0h13m3 0h0m16 0h0m3 0h2m4 0h0m3 0h0m2 0h0m4 0h0m3 0h0m3 0h0m4 0h0m14 0h1m2 0h0m2 0h1M117.5 139.5h2m3 0h0m4 0h1m4 0h1m3 0h1m2 0h4m2 0h4m2 0h0m2 0h0m2 0h0m3 0h0m2 0h2m2 0h0m2 0h1m2 0h2m2 0h0m4 0h3m2 0h5m2 0h12m2 0h29m2 0h4m2 0h5m4 0h0m7 0h0m2 0h0m3 0h0m5 0h0m2 0h0m6 0h2m2 0h0m8 0h0m11 0h1m2 0h0m6 0h0M121.5 140.5h1m2 0h0m4 0h0m3 0h0m2 0h0m8 0h0m3 0h0m4 0h1m2 0h4m3 0h2m4 0h4m6 0h1m5 0h0m2 0h0m4 0h27m2 0h28m14 0h1m3 0h0m5 0h0m3 0h0m2 0h1m2 0h0m2 0h0m2 0h1m6 0h0m7 0h0m13 0h0M122.5 141.5h0m3 0h1m2 0h0m2 0h0m3 0h0m2 0h6m2 0h0m3 0h2m2 0h0m3 0h4m2 0h2m2 0h0m3 0h0m4 0h0m4 0h0m2 0h0m5 0h0m4 0h0m2 0h27m2 0h16m2 0h10m4 0h0m3 0h0m2 0h0m7 0h2m5 0h0m5 0h0m4 0h0m2 0h1m2 0h0m5 0h1m2 0h0m5 0h0m16 0h0M117.5 142.5h0m2 0h2m5 0h0m4 0h1m7 0h1m3 0h2m6 0h1m3 0h0m2 0h0m2 0h0m4 0h0m8 0h1m3 0h0m2 0h0m4 0h1m5 0h0m2 0h21m2 0h0m2 0h21m2 0h8m28 0h1m7 0h0m2 0h0m14 0h0m4 0h0m9 0h0M128.5 143.5h4m3 0h0m2 0h1m2 0h0m2 0h0m3 0h0m2 0h0m6 0h0m9 0h1m3 0h0m2 0h0m5 0h3m7 0h0m5 0h49m2 0h5m6 0h0m3 0h0m3 0h0m9 0h0m4 0h0m17 0h1m2 0h0m5 0h0m2 0h1m10 0h0M124.5 144.5h0m2 0h0m2 0h4m4 0h0m5 0h1m3 0h0m7 0h0m4 0h0m10 0h0m5 0h0m6 0h0m2 0h0m4 0h0m2 0h1m2 0h22m2 0h28m2 0h1m2 0h1m5 0h0m7 0h1m3 0h0m7 0h0m10 0h0m15 0h4M116.5 145.5h1m7 0h2m5 0h1m2 0h0m3 0h1m14 0h0m3 0h3m3 0h0m2 0h0m2 0h0m10 0h1m9 0h0m2 0h2m2 0h38m2 0h13m4 0h0m24 0h0m8 0h0m2 0h0m2 0h0m11 0h0m2 0h0m9 0h2M122.5 146.5h0m5 0h0m2 0h0m14 0h0m9 0h0m2 0h1m7 0h0m11 0h0m4 0h0m10 0h57m2 0h0m5 0h0m12 0h0m4 0h0m8 0h0m9 0h0m6 0h0m21 0h0M121.5 147.5h1m12 0h0m13 0h1m3 0h0m4 0h0m5 0h2m2 0h0m4 0h0m6 0h0m3 0h0m2 0h0m3 0h0m4 0h0m2 0h40m2 0h2m2 0h0m2 0h7m3 0h0m2 0h0m13 0h0m6 0h0m3 0h0m17 0h1m14 0h0M117.5 148.5h0m3 0h0m8 0h0m11 0h1m4 0h0m3 0h0m6 0h0m2 0h0m3 0h1m3 0h0m2 0h1m2 0h1m3 0h0m7 0h0m10 0h0m3 0h18m2 0h32m2 0h0m18 0h0m2 0h0m20 0h0m8 0h0m3 0h0m5 0h0M120.5 149.5h0m4 0h0m5 0h1m4 0h0m4 0h0m3 0h0m5 0h0m2 0h0m3 0h0m15 0h0m2 0h0m5 0h0m2 0h1m4 0h1m4 0h1m2 0h0m2 0h2m2 0h4m2 0h11m2 0h13m2 0h2m2 0h4m2 0h0m2 0h2m16 0h0m4 0h0m5 0h0m8 0h0m9 0h0m18 0h0m3 0h0m4 0h0M145.5 150.5h0m2 0h0m7 0h0m11 0h0m5 0h0m10 0h0m2 0h1m4 0h0m2 0h15m2 0h13m2 0h14m2 0h7m3 0h0m2 0h2m7 0h0m2 0h0m5 0h1m7 0h0m3 0h0m19 0h0m3 0h0m9 0h0m5 0h0M117.5 151.5h0m2 0h0m2 0h1m10 0h0m5 0h0m5 0h1m7 0h1m5 0h0m3 0h1m2 0h0m4 0h0m2 0h0m3 0h2m6 0h0m2 0h0m2 0h1m5 0h25m2 0h4m2 0h0m4 0h0m2 0h0m3 0h1m2 0h0m2 0h8m6 0h0m7 0h1m11 0h0m24 0h0m6 0h0m3 0h0m3 0h0M118.5 152.5h0m14 0h0m4 0h0m4 0h0m2 0h0m12 0h0m4 0h0m16 0h0m8 0h0m3 0h0m5 0h3m2 0h12m2 0h0m2 0h1m2 0h1m2 0h0m2 0h1m3 0h1m2 0h0m2 0h7m3 0h6m4 0h0m2 0h0m7 0h0m4 0h0m19 0h0m15 0h1m4 0h3m4 0h0m4 0h0M119.5 153.5h0m10 0h0m6 0h0m15 0h0m6 0h0m9 0h0m5 0h0m3 0h0m18 0h9m3 0h3m2 0h2m2 0h0m2 0h6m3 0h0m4 0h4m2 0h7m3 0h0m4 0h0m10 0h0m2 0h0m13 0h0m2 0h0m6 0h0m5 0h0m5 0h0m7 0h0m14 0h0m2 0h0M130.5 154.5h0m6 0h0m4 0h0m6 0h0m3 0h1m11 0h0m4 0h0m17 0h0m3 0h0m2 0h0m3 0h3m2 0h8m2 0h5m2 0h5m2 0h4m2 0h9m6 0h1m2 0h0m12 0h0m17 0h1m5 0h0m3 0h0m14 0h0m11 0h0M118.5 155.5h0m6 0h0m4 0h0m10 0h0m4 0h0m12 0h0m19 0h0m5 0h0m3 0h0m9 0h0m2 0h15m2 0h3m3 0h2m2 0h20m2 0h1M121.5 156.5h0m18 0h0m20 0h0m34 0h19m2 0h9m2 0h0m2 0h3m2 0h12M130.5 157.5h2m14 0h0m10 0h0m3 0h1m5 0h0m11 0h0m6 0h1m8 0h1m2 0h0m2 0h7m2 0h16m2 0h13m2 0h3m2 0h0M119.5 158.5h0m10 0h0m13 0h1m13 0h0m10 0h0m13 0h1m9 0h1m4 0h3m3 0h10m2 0h3m2 0h4m2 0h9m2 0h2m2 0h3M129.5 159.5h0m60 0h0m2 0h0m4 0h3m2 0h6m2 0h2m2 0h18m2 0h3m5 0h0m2 0h0M157.5 160.5h0m14 0h0m3 0h0m2 0h0m17 0h0m2 0h3m3 0h0m2 0h2m2 0h5m2 0h1m2 0h0m2 0h0m2 0h0m2 0h1m2 0h2m2 0h2m4 0h1m2 0h0m3 0h0M151.5 161.5h0m40 0h1m2 0h1m2 0h2m2 0h2m2 0h1m3 0h0m2 0h0m4 0h1m2 0h1m5 0h2m2 0h2m2 0h2m5 0h0m3 0h2M142.5 162.5h0m9 0h0m25 0h0m16 0h0m2 0h0m2 0h0m2 0h0m2 0h0m2 0h0m5 0h5m4 0h1m3 0h2m2 0h3m2 0h2m3 0h0m2 0h3m2 0h0M148.5 163.5h0m6 0h0m2 0h0m42 0h0m3 0h0m2 0h0m2 0h2m2 0h0m2 0h0m3 0h0m3 0h0m7 0h0m2 0h1m2 0h0m2 0h0m3 0h1m2 0h0m2 0h1m2 0h0M144.5 164.5h0m51 0h0m4 0h0m3 0h0m2 0h0m2 0h0m2 0h2m6 0h0m3 0h0m2 0h1m2 0h0m4 0h0m2 0h0m3 0h0m7 0h1m2 0h0M196.5 165.5h0m2 0h0m8 0h3m4 0h1m5 0h1m2 0h0m3 0h0m2 0h0m4 0h1m2 0h0m4 0h0m3 0h0M196.5 166.5h1m3 0h0m4 0h0m3 0h0m6 0h0m16 0h1m2 0h0m5 0h1m4 0h0M168.5 167.5h0m9 0h0m20 0h0m4 0h0m9 0h0m2 0h0m16 0h1m2 0h0m3 0h0m7 0h0M154.5 168.5h0m41 0h0m8 0h0m11 0h0m2 0h0m2 0h0m12 0h1m3 0h0m5 0h0M191.5 169.5h0m17 0h0m18 0h0m3 0h0M187.5 170.5h0m16 0h0m6 0h0m22 0h0M207.5 171.5h0m12 0h0m6 0h0M221.5 172.5h0M210.5 173.5h0m12 0h0M221.5 174.5h0m6 0h0M219.5 175.5h0M237.5 176.5h0M218.5 179.5h0" stroke="#0f72d2" stroke-width="1.6" stroke-linecap="square" fill="none"/>
<path d="M232.5 76.5h0M231.5 79.5h0M225.5 83.5h0m5 0h0m4 0h0m3 0h0M222.5 84.5h0m9 0h0M230.5 85.5h2m54 0h0M224.5 86.5h0m4 0h0m2 0h0m7 0h1m2 0h0M219.5 87.5h0m11 0h3m6 0h0m2 0h0m2 0h0M208.5 88.5h0m9 0h0m2 0h0m11 0h0m26 0h0M212.5 89.5h0m11 0h0m8 0h0m7 0h1m4 0h0m51 0h0M207.5 90.5h0m15 0h0m7 0h0m9 0h0m2 0h0m5 0h0m48 0h0M204.5 91.5h0m6 0h0m8 0h0m10 0h0m2 0h0m4 0h0m13 0h0m16 0h0m7 0h0m7 0h0m27 0h0m3 0h0M203.5 92.5h0m22 0h1m6 0h0m3 0h0m4 0h0m39 0h0m17 0h0m5 0h0M213.5 93.5h0m6 0h0m3 0h0m2 0h0m2 0h0m3 0h0m14 0h0m24 0h0m19 0h0m3 0h0m8 0h0M191.5 94.5h0m14 0h0m2 0h0m2 0h1m3 0h0m5 0h0m2 0h1m6 0h0m2 0h0m11 0h0m3 0h0m62 0h0M206.5 95.5h1m13 0h0m9 0h0m4 0h0m4 0h2m7 0h1m9 0h0m5 0h0m5 0h0m3 0h0m5 0h1m12 0h0m2 0h0M206.5 96.5h0m2 0h0m6 0h0m6 0h0m2 0h0m10 0h2m4 0h0m11 0h0m13 0h2m3 0h0m3 0h0m4 0h0m3 0h0m5 0h0m5 0h0m6 0h0m10 0h0m4 0h0m6 0h0M195.5 97.5h0m15 0h0m2 0h2m4 0h0m3 0h2m12 0h3m2 0h0m2 0h0m3 0h1m4 0h0m5 0h0m5 0h0m4 0h0m17 0h0m3 0h1m5 0h1m4 0h0m5 0h0m3 0h0m7 0h0M144.5 98.5h0m64 0h0m3 0h0m5 0h0m2 0h0m3 0h0m5 0h0m2 0h1m3 0h0m2 0h0m6 0h0m2 0h0m6 0h0m13 0h0m4 0h1m6 0h0m6 0h0m10 0h0m4 0h0m3 0h0m4 0h2m4 0h0M130.5 99.5h0m60 0h3m6 0h0m9 0h1m4 0h1m4 0h0m2 0h0m16 0h0m2 0h0m10 0h0m5 0h0m3 0h0m4 0h1m5 0h0m4 0h0m3 0h0m2 0h0m3 0h0m3 0h0m2 0h0m3 0h1m6 0h0m2 0h0m15 0h0M131.5 100.5h0m58 0h0m2 0h0m3 0h1m12 0h1m3 0h0m3 0h0m2 0h1m4 0h1m3 0h0m3 0h0m5 0h0m7 0h1m2 0h0m6 0h0m9 0h1m6 0h0m5 0h1m2 0h0m11 0h0m2 0h0m8 0h0m7 0h0m8 0h1m2 0h0M125.5 101.5h0m24 0h0m5 0h0m21 0h0m4 0h0m2 0h0m8 0h0m9 0h0m2 0h0m3 0h1m5 0h1m4 0h2m2 0h0m3 0h2m4 0h0m9 0h1m4 0h0m5 0h0m2 0h0m10 0h0m10 0h0m2 0h0m4 0h0m8 0h0m5 0h0m11 0h1m7 0h0m3 0h0M124.5 102.5h0m5 0h0m36 0h0m7 0h0m21 0h0m9 0h0m3 0h0m3 0h1m6 0h0m2 0h1m4 0h1m3 0h0m2 0h0m4 0h0m4 0h0m3 0h0m3 0h0m6 0h0m5 0h2m2 0h0m3 0h0m5 0h0m17 0h1m8 0h0m8 0h0m7 0h0m3 0h0M118.5 103.5h0m17 0h0m2 0h0m4 0h0m7 0h1m12 0h0m13 0h0m2 0h0m12 0h1m2 0h0m7 0h1m2 0h1m2 0h0m2 0h0m5 0h0m3 0h1m4 0h0m2 0h1m10 0h0m4 0h0m5 0h0m11 0h1m2 0h0m2 0h1m5 0h0m6 0h0m2 0h0m2 0h1m3 0h1m3 0h0m21 0h1m2 0h0m4 0h0m2 0h0M136.5 104.5h0m26 0h0m12 0h0m9 0h0m5 0h0m5 0h0m2 0h1m3 0h0m2 0h0m2 0h0m4 0h0m2 0h0m2 0h0m10 0h0m7 0h1m4 0h0m2 0h1m6 0h0m7 0h1m3 0h0m2 0h0m2 0h0m4 0h0m8 0h0m3 0h0m9 0h1m18 0h0m2 0h0m2 0h1m4 0h0m2 0h0M120.5 105.5h1m2 0h0m5 0h0m7 0h0m19 0h1m6 0h0m5 0h0m2 0h0m9 0h0m11 0h0m2 0h0m3 0h0m3 0h0m2 0h0m3 0h0m2 0h0m2 0h0m2 0h0m5 0h0m2 0h1m6 0h0m2 0h1m5 0h2m3 0h1m4 0h0m8 0h0m7 0h2m7 0h0m4 0h0m2 0h0m11 0h0m5 0h0m11 0h0m7 0h2m5 0h0M118.5 106.5h0m5 0h0m8 0h0m4 0h0m15 0h0m5 0h0m4 0h0m3 0h1m4 0h0m5 0h0m2 0h0m6 0h1m4 0h0m3 0h3m4 0h1m6 0h0m2 0h0m3 0h0m4 0h1m2 0h0m2 0h3m4 0h1m6 0h1m3 0h0m6 0h2m5 0h0m2 0h0m2 0h1m3 0h0m15 0h1m2 0h0m2 0h0m8 0h0m2 0h0m6 0h1m2 0h0m3 0h0m2 0h0m5 0h0m4 0h1M119.5 107.5h0m3 0h0m2 0h0m7 0h0m3 0h0m2 0h0m3 0h0m6 0h0m3 0h2m8 0h0m6 0h1m5 0h0m12 0h0m4 0h0m2 0h1m2 0h0m2 0h0m7 0h2m2 0h1m3 0h1m4 0h0m2 0h0m2 0h0m4 0h1m2 0h4m2 0h0m5 0h1m3 0h1m11 0h0m2 0h0m3 0h1m4 0h1m3 0h0m2 0h0m7 0h0m3 0h1m9 0h0m4 0h0m10 0h0m3 0h1m2 0h0m2 0h0M117.5 108.5h0m2 0h1m6 0h3m3 0h0m4 0h0m5 0h1m2 0h0m3 0h2m5 0h0m13 0h0m4 0h0m3 0h0m2 0h0m3 0h0m5 0h0m4 0h1m2 0h1m4 0h3m3 0h1m2 0h0m4 0h0m3 0h1m3 0h4m5 0h3m8 0h0m6 0h0m12 0h0m2 0h0m7 0h0m7 0h1m3 0h0m5 0h0m3 0h0m12 0h0m5 0h0M119.5 109.5h0m2 0h0m2 0h0m7 0h1m6 0h0m3 0h0m2 0h0m2 0h0m2 0h0m3 0h0m4 0h1m4 0h1m2 0h0m4 0h1m7 0h1m5 0h0m8 0h2m3 0h0m3 0h0m4 0h1m5 0h0m2 0h0m2 0h0m2 0h1m2 0h0m3 0h0m2 0h1m4 0h0m8 0h0m2 0h2m3 0h1m5 0h0m14 0h0m4 0h1m2 0h1m6 0h0m31 0h0M118.5 110.5h0m2 0h1m2 0h1m2 0h0m2 0h0m3 0h1m2 0h0m2 0h0m2 0h3m2 0h2m6 0h0m5 0h0m3 0h0m2 0h0m3 0h0m4 0h0m10 0h0m2 0h0m4 0h2m2 0h1m2 0h0m2 0h1m2 0h0m4 0h2m4 0h0m2 0h0m2 0h0m2 0h0m2 0h0m5 0h1m2 0h2m3 0h0m2 0h0m3 0h0m2 0h0m3 0h1m12 0h0m27 0h0m8 0h0m15 0h0m4 0h0m2 0h2M117.5 111.5h1m4 0h0m2 0h1m5 0h0m2 0h1m3 0h0m3 0h0m3 0h0m3 0h0m2 0h3m2 0h0m2 0h1m2 0h0m2 0h0m2 0h0m3 0h0m2 0h0m3 0h2m4 0h5m2 0h1m3 0h0m2 0h0m3 0h1m2 0h0m2 0h0m3 0h1m4 0h9m2 0h1m2 0h0m2 0h1m6 0h0m4 0h0m2 0h1m2 0h0m4 0h1m5 0h0m12 0h0m6 0h0m9 0h0m3 0h0m3 0h0m4 0h0m13 0h0m3 0h0m2 0h0m3 0h0M120.5 112.5h0m3 0h1m2 0h0m5 0h0m4 0h3m2 0h2m5 0h1m2 0h1m4 0h1m2 0h1m2 0h2m2 0h1m3 0h0m2 0h3m3 0h0m2 0h1m3 0h0m5 0h2m3 0h0m3 0h3m4 0h2m2 0h4m3 0h0m2 0h2m7 0h0m2 0h0m4 0h0m3 0h0m4 0h0m2 0h0m2 0h1m5 0h0m19 0h0m2 0h0m2 0h0m10 0h0m4 0h0m5 0h0m7 0h0m4 0h0m7 0h0M118.5 113.5h2m2 0h2m3 0h0m2 0h0m2 0h4m2 0h0m2 0h2m3 0h0m2 0h1m2 0h2m2 0h1m2 0h4m2 0h1m4 0h1m2 0h3m3 0h1m4 0h1m2 0h0m4 0h0m2 0h0m2 0h0m4 0h1m4 0h0m6 0h0m3 0h0m10 0h1m2 0h0m3 0h1m3 0h0m13 0h0m4 0h0m11 0h0m20 0h0m6 0h0m16 0h0M117.5 114.5h3m4 0h1m2 0h0m2 0h1m3 0h1m4 0h2m2 0h3m2 0h2m4 0h2m2 0h1m3 0h0m4 0h0m3 0h0m2 0h4m2 0h2m2 0h3m2 0h0m4 0h0m2 0h0m2 0h2m3 0h2m2 0h0m3 0h1m6 0h0m2 0h1m2 0h0m5 0h0m3 0h0m2 0h1m3 0h0m5 0h0m4 0h0m20 0h1m6 0h0m45 0h0M119.5 115.5h2m2 0h0m3 0h2m2 0h3m2 0h0m2 0h12m3 0h0m2 0h5m2 0h0m4 0h0m2 0h1m2 0h1m2 0h1m2 0h2m2 0h0m3 0h4m3 0h0m3 0h1m2 0h0m7 0h0m5 0h0m5 0h1m4 0h0m2 0h0m2 0h1m4 0h0m3 0h0m2 0h0m9 0h0m7 0h0m19 0h0m14 0h0m9 0h0m5 0h0m12 0h0M117.5 116.5h4m2 0h2m3 0h1m2 0h4m2 0h5m2 0h2m3 0h0m4 0h2m2 0h5m2 0h11m2 0h0m2 0h0m2 0h2m3 0h1m2 0h5m2 0h0m2 0h4m2 0h0m3 0h0m12 0h1m7 0h2m3 0h1m4 0h0m5 0h0m5 0h0m42 0h0m20 0h0M117.5 117.5h8m5 0h2m2 0h0m2 0h11m3 0h8m2 0h4m2 0h2m2 0h0m2 0h0m2 0h9m3 0h0m3 0h0m2 0h0m5 0h0m2 0h0m2 0h0m2 0h3m2 0h1m9 0h0m2 0h0m5 0h1m10 0h1m2 0h0m5 0h0m17 0h0m8 0h0m20 0h0m17 0h0m2 0h0m2 0h0m4 0h0M116.5 118.5h1m3 0h0m3 0h6m2 0h0m2 0h1m4 0h3m2 0h1m2 0h0m3 0h7m2 0h1m2 0h1m2 0h2m2 0h0m3 0h4m3 0h4m2 0h1m2 0h4m2 0h1m2 0h0m5 0h1m5 0h2m3 0h0m4 0h0m12 0h0m3 0h0m3 0h1m13 0h0m6 0h0m14 0h0m18 0h0M118.5 119.5h1m2 0h1m2 0h6m2 0h13m3 0h0m2 0h12m2 0h5m2 0h8m2 0h0m3 0h2m2 0h0m2 0h3m2 0h3m3 0h0m3 0h0m3 0h0m2 0h0m4 0h0m2 0h2m10 0h0m2 0h1m5 0h3m3 0h0m20 0h0m47 0h0M117.5 120.5h1m2 0h0m2 0h0m2 0h4m4 0h4m2 0h2m3 0h2m2 0h0m2 0h2m2 0h3m2 0h1m2 0h4m2 0h3m2 0h0m2 0h0m2 0h2m2 0h1m2 0h1m2 0h0m2 0h0m2 0h3m2 0h0m3 0h0m2 0h0m2 0h0m2 0h0m2 0h1m2 0h1m2 0h0m2 0h0m2 0h0m2 0h0m3 0h0m5 0h0m2 0h0m2 0h1m6 0h0m3 0h1m10 0h0m31 0h0m11 0h0M117.5 121.5h0m3 0h3m2 0h2m2 0h5m2 0h6m2 0h13m2 0h2m2 0h3m2 0h0m2 0h5m3 0h0m2 0h0m2 0h0m2 0h2m2 0h0m2 0h6m6 0h2m2 0h3m2 0h0m15 0h0m2 0h0m4 0h0m8 0h0m3 0h0M117.5 122.5h0m2 0h1m2 0h1m2 0h0m2 0h0m2 0h5m2 0h1m2 0h3m4 0h5m3 0h1m2 0h1m2 0h0m2 0h0m2 0h6m2 0h7m2 0h3m2 0h0m3 0h1m2 0h1m2 0h0m3 0h3m3 0h0m2 0h1m5 0h0m2 0h0m6 0h1m4 0h0m2 0h2m9 0h0m2 0h3m2 0h0m23 0h0M119.5 123.5h1m2 0h1m2 0h3m4 0h2m3 0h1m3 0h2m2 0h0m2 0h2m3 0h0m3 0h0m2 0h5m2 0h0m2 0h4m2 0h10m2 0h1m4 0h0m6 0h1m5 0h0m3 0h0m3 0h0m2 0h0m2 0h1m5 0h2m2 0h0m4 0h0m2 0h0m5 0h1m3 0h0m2 0h0m2 0h0m3 0h0m26 0h0M117.5 124.5h0m2 0h1m3 0h1m4 0h0m3 0h7m2 0h6m2 0h6m2 0h1m2 0h0m3 0h0m2 0h1m2 0h0m2 0h3m3 0h5m2 0h2m4 0h1m6 0h2m8 0h0m2 0h0m2 0h1m4 0h0m3 0h0m2 0h1m2 0h1m6 0h0m3 0h4M121.5 125.5h1m4 0h3m2 0h3m2 0h1m2 0h0m2 0h3m2 0h0m2 0h0m2 0h0m3 0h1m2 0h4m2 0h4m2 0h1m4 0h2m2 0h0m2 0h2m2 0h3m2 0h2m3 0h2m2 0h0m3 0h1m3 0h0m4 0h0m7 0h0m2 0h2m3 0h0m7 0h0m7 0h0m3 0h1m2 0h0m70 0h0M117.5 126.5h1m3 0h1m3 0h0m2 0h3m2 0h0m3 0h2m4 0h1m3 0h2m2 0h2m2 0h2m2 0h2m2 0h4m2 0h1m5 0h4m2 0h1m3 0h0m3 0h0m2 0h0m2 0h1m4 0h0m3 0h0m4 0h0m2 0h0m4 0h0m5 0h1m2 0h0m2 0h0m2 0h0m2 0h0m8 0h0m2 0h0m3 0h0m3 0h0m3 0h0m2 0h0M119.5 127.5h0m3 0h2m5 0h0m2 0h0m2 0h1m2 0h1m2 0h0m2 0h0m2 0h1m4 0h0m2 0h1m2 0h1m3 0h4m10 0h5m2 0h0m2 0h0m2 0h3m3 0h1m2 0h0m3 0h2m2 0h5m2 0h0m2 0h0m2 0h0m2 0h0m4 0h1m6 0h1m2 0h0m2 0h1m3 0h0m7 0h0m3 0h0m2 0h0M117.5 128.5h1m6 0h0m2 0h0m3 0h0m2 0h0m3 0h0m4 0h1m2 0h0m4 0h0m2 0h0m4 0h0m6 0h0m2 0h3m2 0h0m4 0h0m2 0h0m4 0h0m2 0h2m8 0h0m5 0h0m2 0h0m2 0h2m3 0h1m2 0h0m4 0h0m2 0h3m2 0h0m3 0h0m3 0h0m3 0h0m3 0h1m2 0h0m3 0h0m2 0h0m3 0h0m3 0h2M118.5 129.5h0m5 0h0m8 0h1m4 0h1m6 0h1m3 0h0m2 0h0m4 0h1m5 0h0m5 0h1m6 0h0m4 0h0m10 0h0m3 0h0m4 0h4m2 0h0m3 0h0m2 0h2m2 0h0m3 0h0m3 0h1m3 0h0m5 0h0m2 0h0m2 0h0m6 0h0m5 0h1m4 0h0M118.5 130.5h0m3 0h0m2 0h1m3 0h0m8 0h1m2 0h0m7 0h1m2 0h3m2 0h0m4 0h0m6 0h4m5 0h0m8 0h1m3 0h0m4 0h1m2 0h3m3 0h4m2 0h1m2 0h0m3 0h0m6 0h0m4 0h0m3 0h1m3 0h0m2 0h0m2 0h1m2 0h0m10 0h0M131.5 131.5h0m7 0h0m3 0h0m4 0h0m14 0h0m5 0h0m10 0h0m7 0h0m2 0h0m5 0h1m3 0h2m4 0h0m2 0h0m2 0h3m3 0h0m6 0h0m2 0h0m3 0h0m4 0h0m2 0h0m2 0h0m3 0h0m6 0h0m6 0h0M122.5 132.5h0m29 0h0m4 0h0m13 0h0m14 0h0m7 0h2m2 0h1m4 0h2m2 0h2m2 0h0m5 0h0m2 0h0m6 0h0m4 0h2m3 0h0m6 0h0m3 0h2m3 0h1M117.5 133.5h0m5 0h0m49 0h0m20 0h6m2 0h0m3 0h3m6 0h0m2 0h1m11 0h2m2 0h0m2 0h0m2 0h0m4 0h0m2 0h0m2 0h0M155.5 134.5h0m33 0h1m2 0h3m4 0h2m3 0h3m4 0h0m10 0h0m2 0h0m6 0h1m7 0h1M192.5 135.5h1m2 0h0m2 0h0m2 0h1m2 0h0m3 0h0m2 0h2m3 0h0m4 0h0m2 0h0m4 0h0m3 0h1m7 0h1m5 0h0M176.5 136.5h0m14 0h0m2 0h3m3 0h0m2 0h2m2 0h2m3 0h0m2 0h0m2 0h1m2 0h2m2 0h0m5 0h4m3 0h0m2 0h1m2 0h0m3 0h0M190.5 137.5h0m2 0h2m3 0h0m6 0h0m8 0h0m18 0h0m2 0h0m11 0h0M189.5 138.5h5m4 0h0m3 0h0m2 0h0m2 0h1m2 0h1m3 0h1m3 0h0m4 0h0m3 0h0m8 0h0m10 0h0m2 0h0M188.5 139.5h5m4 0h3m2 0h1m2 0h0m5 0h2m6 0h0m2 0h0m3 0h0m3 0h0m4 0h0m6 0h0m4 0h1M188.5 140.5h4m3 0h3m3 0h0m3 0h0m2 0h0m2 0h4m3 0h0m6 0h0m3 0h0m2 0h0m13 0h0m2 0h0M188.5 141.5h0m3 0h0m2 0h3m3 0h1m2 0h2m2 0h0m3 0h1m2 0h0m2 0h0m3 0h2m5 0h2m2 0h1m6 0h0m3 0h0m3 0h1M190.5 142.5h1m3 0h1m3 0h2m2 0h1m4 0h1m7 0h0m11 0h1m2 0h1m3 0h1m6 0h0M194.5 143.5h1m2 0h1m2 0h0m3 0h0m2 0h3m3 0h2m2 0h0m3 0h0m6 0h0m4 0h1m2 0h1m2 0h0m6 0h0M189.5 144.5h2m2 0h0m3 0h0m2 0h2m5 0h0m5 0h0m3 0h1m3 0h0m6 0h0m2 0h3m4 0h1M191.5 145.5h0m2 0h2m4 0h0m3 0h0m4 0h1m3 0h0m2 0h0m2 0h0m11 0h0m10 0h0m3 0h0m2 0h0M197.5 146.5h1m4 0h0m2 0h0m2 0h0m4 0h0m2 0h0m6 0h0m15 0h0M194.5 147.5h0m2 0h3m2 0h3m3 0h4m3 0h1m6 0h1m3 0h0m2 0h0m9 0h0m4 0h1M198.5 148.5h0m2 0h0m2 0h0m2 0h0m4 0h0m6 0h0m5 0h0m2 0h0m3 0h0m2 0h0m13 0h0M190.5 149.5h0m6 0h0m6 0h0m2 0h0m10 0h0m21 0h0M194.5 150.5h0m4 0h2m2 0h1m3 0h0m3 0h1m14 0h0m19 0h0M195.5 151.5h0m3 0h0m4 0h1m2 0h0m5 0h0m2 0h0m30 0h0M192.5 152.5h0m5 0h0m3 0h2m3 0h0m37 0h0M231.5 153.5h0M200.5 155.5h0m5 0h0m5 0h0M196.5 156.5h0M211.5 157.5h0m10 0h0M208.5 158.5h0M202.5 159.5h0" stroke="#0668c8" stroke-width="1.6" stroke-linecap="square" fill="none"/>
<path d="M55.8 108h0M52.8 121.4h0M69.1 108.5h0M75.4 105h0M79.1 108.5h0M82.9 100.5h0M83.4 109.8h0M80.4 113h0M80.4 115.6h0M89.7 101h0M101.3 73.1h0M114.3 108h0" stroke="#0f72d2" stroke-width="1.5" stroke-linecap="square" fill="none"/>
</g>
<path d="M245.1 156.1H313.6" stroke="#cf2fd0" stroke-width="1.7" fill="none"/>
<path d="M48.3 15.9H314.9" stroke="#ababab" stroke-width="1.5" fill="none"/>
<path d="M314.1 15.9V232.3" stroke="#9a9a9a" stroke-width="1.5" fill="none"/>
<path d="M51.3 15.9V229.8H314.6" stroke="#959595" stroke-width="1.4" fill="none"/>
<path d="M51.3 227.3v5M51.3 15.9v2.5M98.2 227.3v5M98.2 15.9v2.5M145.1 227.3v5M145.1 15.9v2.5M192 227.3v5M192 15.9v2.5M238.9 227.3v5M238.9 15.9v2.5M285.8 227.3v5M285.8 15.9v2.5M48.6 229.8h5M314.1 229.8h-2.5M48.6 187h5M314.1 187h-2.5M48.6 144.2h5M314.1 144.2h-2.5M48.6 101.5h5M314.1 101.5h-2.5M48.6 58.7h5M314.1 58.7h-2.5M48.6 15.9h5M314.1 15.9h-2.5" stroke="#6e6e6e" stroke-width="1.1" fill="none"/>
<rect x="178" y="13.5" width="6" height="4" fill="#fff"/>
<text x="51" y="243" font-size="7.6" text-anchor="middle" font-weight="bold" fill="#222" textLength="4.2" lengthAdjust="spacingAndGlyphs">0</text>
<text x="97.9" y="243" font-size="7.6" text-anchor="middle" font-weight="bold" fill="#222" textLength="20.8" lengthAdjust="spacingAndGlyphs">10000</text>
<text x="144.8" y="243" font-size="7.6" text-anchor="middle" font-weight="bold" fill="#222" textLength="20.8" lengthAdjust="spacingAndGlyphs">20000</text>
<text x="191.7" y="243" font-size="7.6" text-anchor="middle" font-weight="bold" fill="#222" textLength="20.8" lengthAdjust="spacingAndGlyphs">30000</text>
<text x="238.6" y="243" font-size="7.6" text-anchor="middle" font-weight="bold" fill="#222" textLength="20.8" lengthAdjust="spacingAndGlyphs">40000</text>
<text x="285.5" y="243" font-size="7.6" text-anchor="middle" font-weight="bold" fill="#222" textLength="20.8" lengthAdjust="spacingAndGlyphs">50000</text>
<text x="33.4" y="232.7" font-size="7.6" text-anchor="middle" font-weight="bold" fill="#222" textLength="4.2" lengthAdjust="spacingAndGlyphs">0</text>
<text x="33.4" y="189.9" font-size="7.6" text-anchor="middle" font-weight="bold" fill="#222" textLength="16.6" lengthAdjust="spacingAndGlyphs">5000</text>
<text x="33.4" y="147.1" font-size="7.6" text-anchor="middle" font-weight="bold" fill="#222" textLength="20.8" lengthAdjust="spacingAndGlyphs">10000</text>
<text x="33.4" y="104.4" font-size="7.6" text-anchor="middle" font-weight="bold" fill="#222" textLength="20.8" lengthAdjust="spacingAndGlyphs">15000</text>
<text x="33.4" y="61.6" font-size="7.6" text-anchor="middle" font-weight="bold" fill="#222" textLength="20.8" lengthAdjust="spacingAndGlyphs">20000</text>
<text x="33.4" y="18.8" font-size="7.6" text-anchor="middle" font-weight="bold" fill="#222" textLength="20.8" lengthAdjust="spacingAndGlyphs">25000</text>
<text x="118.4" y="7.4" font-size="8.3" text-anchor="start" font-weight="normal" fill="#1e1e1e" textLength="93.6" lengthAdjust="spacingAndGlyphs" word-spacing="-1.3" stroke="#1e1e1e" stroke-width="0.35">Ch1 Pos:25613 Neg:30322</text>
<text x="16.3" y="122.7" font-size="8" text-anchor="middle" font-weight="normal" fill="#1e1e1e" textLength="50.5" lengthAdjust="spacingAndGlyphs" transform="rotate(-90 16.3 122.7)" stroke="#1e1e1e" stroke-width="0.2">Ch1 Amplitude</text>
<g clip-path="url(#ct)">
<text x="182.5" y="253.5" font-size="8" text-anchor="middle" font-weight="bold" fill="#1e1e1e" textLength="49" lengthAdjust="spacingAndGlyphs">Event Number</text>
<text x="531" y="254.2" font-size="8" text-anchor="middle" font-weight="bold" fill="#1e1e1e" textLength="32" lengthAdjust="spacingAndGlyphs">Amplitude</text>
</g>
<text x="60" y="27" font-size="9.4" text-anchor="start" font-weight="bold" fill="#1e1e1e" textLength="35.5" lengthAdjust="spacingAndGlyphs" stroke="#1e1e1e" stroke-width="0.25">Negative</text>
<text x="63" y="39.1" font-size="9.4" text-anchor="start" font-weight="bold" fill="#1e1e1e" textLength="30" lengthAdjust="spacingAndGlyphs" stroke="#1e1e1e" stroke-width="0.25">Control</text>
<text x="149" y="29.6" font-size="10.4" text-anchor="start" font-weight="bold" fill="#1e1e1e" textLength="10.5" lengthAdjust="spacingAndGlyphs" stroke="#1e1e1e" stroke-width="0.25">S1</text>
<text x="226" y="29.6" font-size="10.4" text-anchor="start" font-weight="bold" fill="#1e1e1e" textLength="10.6" lengthAdjust="spacingAndGlyphs" stroke="#1e1e1e" stroke-width="0.25">S2</text>
<text x="293.4" y="29.6" font-size="10.4" text-anchor="start" font-weight="bold" fill="#1e1e1e" textLength="10.6" lengthAdjust="spacingAndGlyphs" stroke="#1e1e1e" stroke-width="0.25">S3</text>
<text x="149.7" y="212.4" font-size="9.2" text-anchor="start" font-weight="bold" fill="#1e1e1e" textLength="75.8" lengthAdjust="spacingAndGlyphs" stroke="#1e1e1e" stroke-width="0.25">TOTAL BACTERIA</text>
<text x="86.6" y="225.8" font-size="9.2" text-anchor="start" font-weight="bold" fill="#1e1e1e" textLength="201.3" lengthAdjust="spacingAndGlyphs" stroke="#1e1e1e" stroke-width="0.25">THE GRAPH OF ABSOLUTE QUANTIFICATION</text>
<rect x="50.2" y="274.5" width="261.4" height="212" fill="#f6f6f6"/>
<path d="M91.9 274.5V486.5M133.5 274.5V486.5M175.2 274.5V486.5M216.8 274.5V486.5M258.5 274.5V486.5M300.1 274.5V486.5M50.2 460H311.6M50.2 433.5H311.6M50.2 407H311.6M50.2 380.5H311.6M50.2 354H311.6M50.2 327.5H311.6M50.2 301H311.6" stroke="#e5e5e5" stroke-width="1" fill="none"/>
<path d="M113.1 275.5V486" stroke="#fafac8" stroke-width="2.4" fill="none"/>
<path d="M113.1 275.5V486" stroke="#ede8a4" stroke-width="0.7" stroke-dasharray="1.5 1.5" fill="none"/>
<path d="M175.8 275.5V486" stroke="#fafac8" stroke-width="2.4" fill="none"/>
<path d="M175.8 275.5V486" stroke="#ede8a4" stroke-width="0.7" stroke-dasharray="1.5 1.5" fill="none"/>
<path d="M248.2 275.5V486" stroke="#fafac8" stroke-width="2.4" fill="none"/>
<path d="M248.2 275.5V486" stroke="#ede8a4" stroke-width="0.7" stroke-dasharray="1.5 1.5" fill="none"/>
<g filter="url(#b)">
<path d="M54.5 388.5h0M105.5 393.5h0M78.5 397.5h0M62.5 398.5h0M60.5 399.5h0M64.5 400.5h0M84.5 401.5h0M55.5 402.5h0M98.5 404.5h0M54.5 405.5h0M72.5 407.5h0m40 0h0M54.5 408.5h0m18 0h0m11 0h0m29 0h0m173 0h0M53.5 409.5h1m3 0h0m5 0h1m33 0h0m10 0h0M62.5 410.5h0m7 0h0m7 0h0m27 0h0M58.5 411.5h0m10 0h0m4 0h0M56.5 412.5h0m19 0h0m30 0h1m156 0h0m21 0h0M51.5 413.5h0m6 0h0m10 0h0m27 0h0m2 0h0m152 0h1m2 0h0m2 0h0m2 0h0m3 0h1m5 0h0m3 0h0m2 0h1m15 0h1m5 0h0m2 0h0m2 0h3m3 0h0m4 0h1M56.5 414.5h0m2 0h0m5 0h0m7 0h0m16 0h0m4 0h0m8 0h1m7 0h0m3 0h0m146 0h0m3 0h1m3 0h2m5 0h0m3 0h1m3 0h0m2 0h0m4 0h0m3 0h0m2 0h0m2 0h2m4 0h3m6 0h0m4 0h0M51.5 415.5h0m8 0h0m3 0h0m6 0h1m2 0h0m2 0h0m2 0h0m3 0h0m3 0h0m5 0h1m2 0h0m5 0h0m5 0h0m2 0h0m149 0h0m4 0h0m3 0h1m8 0h1m2 0h0m3 0h0m2 0h3m9 0h0m2 0h0m2 0h1m2 0h0m2 0h2m2 0h0m2 0h0m4 0h1M52.5 416.5h1m2 0h0m3 0h0m2 0h2m5 0h4m5 0h0m2 0h2m3 0h0m2 0h0m6 0h0m2 0h1m2 0h0m2 0h0m98 0h0m9 0h0m7 0h0m2 0h0m8 0h0m14 0h0m2 0h1m13 0h0m9 0h0m4 0h1m2 0h2m4 0h0m2 0h1m2 0h2m2 0h0m7 0h0m8 0h2m7 0h1m2 0h0M52.5 417.5h9m2 0h0m3 0h3m4 0h1m2 0h0m2 0h5m3 0h1m2 0h6m2 0h1m3 0h1m4 0h1m3 0h2m63 0h0m3 0h0m5 0h1m3 0h4m6 0h5m3 0h1m2 0h0m6 0h0m2 0h0m6 0h0m3 0h3m3 0h2m4 0h1m5 0h0m4 0h1m2 0h0m4 0h1m2 0h2m2 0h0m7 0h1m2 0h1m7 0h1m2 0h0m7 0h1m2 0h0m5 0h1m2 0h2m2 0h3m3 0h0M51.5 418.5h0m2 0h44m2 0h13m66 0h3m3 0h0m4 0h2m3 0h2m2 0h0m2 0h0m3 0h0m2 0h0m8 0h2m2 0h0m2 0h4m3 0h0m2 0h0m2 0h0m2 0h1m4 0h1m3 0h3m2 0h4m2 0h0m3 0h1m2 0h0m4 0h2m2 0h0m2 0h0m2 0h5m6 0h2m3 0h2m2 0h2m2 0h1m3 0h0m3 0h2m3 0h5M51.5 419.5h61m64 0h1m2 0h3m5 0h1m5 0h2m2 0h0m2 0h0m3 0h0m3 0h0m2 0h0m4 0h1m4 0h5m2 0h0m2 0h0m2 0h0m5 0h7m2 0h0m7 0h0m2 0h3m2 0h5m2 0h0m2 0h0m2 0h2m2 0h27m2 0h4m2 0h5M51.5 420.5h61m8 0h0m18 0h0m24 0h0m2 0h0m12 0h0m3 0h4m2 0h0m3 0h3m4 0h0m4 0h1m6 0h0m9 0h0m2 0h0m3 0h2m3 0h0m2 0h0m3 0h5m7 0h1m3 0h6m2 0h56M51.5 421.5h62m12 0h0m14 0h1m13 0h0m16 0h0m7 0h0m8 0h0m3 0h0m2 0h1m3 0h0m4 0h0m2 0h1m5 0h0m4 0h0m5 0h0m6 0h1m2 0h1m3 0h0m2 0h0m2 0h1m2 0h0m2 0h0m4 0h1m4 0h0m3 0h62M51.5 422.5h62m3 0h2m4 0h1m2 0h0m2 0h0m3 0h0m3 0h0m6 0h0m8 0h1m4 0h0m2 0h0m3 0h0m2 0h0m2 0h1m7 0h0m3 0h2m2 0h1m2 0h2m3 0h2m2 0h3m2 0h1m2 0h0m2 0h0m3 0h1m2 0h0m5 0h5m2 0h0m2 0h1m3 0h4m2 0h6m2 0h0m4 0h70M51.5 423.5h64m2 0h5m2 0h0m2 0h4m2 0h7m2 0h9m2 0h7m2 0h1m2 0h3m2 0h0m2 0h3m3 0h1m2 0h8m2 0h3m2 0h14m3 0h0m2 0h2m2 0h2m2 0h11m2 0h75M51.5 424.5h70m2 0h33m2 0h152M51.5 425.5h259M51.5 426.5h259M51.5 427.5h259M51.5 428.5h259M51.5 429.5h259M51.5 430.5h30m2 0h227M51.5 431.5h3m2 0h9m4 0h0m2 0h3m4 0h2m2 0h3m3 0h13m2 0h0m3 0h2m2 0h1m2 0h158m2 0h6m2 0h5m2 0h22M59.5 432.5h3m8 0h3m3 0h0m4 0h2m4 0h0m5 0h1m4 0h1m2 0h2m3 0h0m6 0h0m3 0h138m2 0h0m2 0h0m2 0h0m2 0h6m2 0h5m2 0h6m2 0h0m2 0h1m3 0h0m2 0h2m2 0h3m3 0h5m2 0h3M54.5 433.5h0m6 0h0m17 0h0m2 0h1m7 0h0m3 0h0m4 0h0m9 0h0m2 0h1m3 0h0m4 0h136m2 0h0m2 0h2m2 0h2m4 0h1m2 0h3m3 0h0m2 0h4m4 0h1m6 0h0m3 0h1m5 0h1m2 0h1m4 0h2M57.5 434.5h0m4 0h0m36 0h0m10 0h0m5 0h1m2 0h133m3 0h1m3 0h0m2 0h0m6 0h0m3 0h0m12 0h0m3 0h0m13 0h0m3 0h1M61.5 435.5h0m30 0h0m22 0h2m2 0h0m3 0h0m2 0h1m2 0h15m2 0h2m2 0h6m2 0h2m2 0h3m2 0h0m2 0h82m7 0h1m19 0h0m2 0h0m13 0h0m15 0h1M56.5 436.5h0m11 0h0m27 0h0m22 0h3m2 0h0m2 0h2m3 0h2m2 0h0m5 0h0m2 0h0m2 0h1m2 0h0m2 0h0m2 0h1m3 0h0m2 0h2m4 0h2m2 0h0m2 0h0m3 0h0m2 0h0m3 0h9m2 0h1m2 0h3m2 0h13m2 0h1m2 0h5m2 0h7m2 0h20m4 0h0m46 0h0M81.5 437.5h0m44 0h1m2 0h0m3 0h1m9 0h0m3 0h1m5 0h0m4 0h0m12 0h0m3 0h0m3 0h0m2 0h0m2 0h1m2 0h4m3 0h1m2 0h0m2 0h0m2 0h0m2 0h1m3 0h0m2 0h0m2 0h0m2 0h1m2 0h6m2 0h1m2 0h2m3 0h1m2 0h1m2 0h2m5 0h0m2 0h0m2 0h0m2 0h5M51.5 438.5h0m38 0h0m27 0h0m13 0h0m32 0h0m2 0h0m17 0h2m17 0h0m4 0h0m2 0h0m13 0h0m2 0h0m3 0h5m2 0h1m6 0h0m5 0h2m4 0h0M104.5 439.5h0m9 0h0m4 0h0m8 0h0m5 0h0m4 0h0m14 0h0m14 0h0m17 0h0m3 0h0m2 0h0m16 0h0m12 0h0m10 0h0m10 0h0m7 0h1m7 0h0M128.5 440.5h0m11 0h0m83 0h0m5 0h0m11 0h0m63 0h0M100.5 441.5h0m58 0h0m23 0h0M107.5 442.5h0m83 0h0m55 0h0M90.5 443.5h0M63.5 444.5h0M241.5 445.5h0m12 0h0M64.5 446.5h0m19 0h0m20 0h0M71.5 447.5h0M270.5 448.5h0M76.5 449.5h0m24 0h0M225.5 450.5h0M91.5 451.5h0m13 0h0M149.5 453.5h0m125 0h0M96.5 454.5h0m120 0h0M171.5 456.5h0M207.5 457.5h0M78.5 458.5h0m80 0h0m6 0h0M98.5 460.5h0M284.5 463.5h0M179.5 464.5h0M300.5 465.5h0M182.5 468.5h0M78.5 470.5h0M65.5 475.5h0m160 0h0M118.5 479.5h0M87.5 481.5h0" stroke="#747474" stroke-width="1.5" stroke-linecap="square" fill="none"/>
<path d="M69.5 417.5h0m156 0h0M53.5 418.5h0m2 0h0m2 0h0m6 0h0m3 0h0m3 0h1m19 0h0m6 0h0m2 0h0m5 0h0m3 0h0m7 0h0M51.5 419.5h2m3 0h7m3 0h0m4 0h0m2 0h2m3 0h3m3 0h2m2 0h2m3 0h5m3 0h10m2 0h0m121 0h0M51.5 420.5h31m2 0h28m136 0h0m13 0h0m10 0h0m3 0h3m3 0h0m2 0h1m2 0h0m6 0h0m5 0h1m3 0h1m3 0h0M51.5 421.5h61m136 0h5m3 0h2m2 0h2m2 0h2m2 0h11m2 0h0m2 0h0m2 0h3m3 0h1m2 0h1m3 0h12M51.5 422.5h61m72 0h0m64 0h62M51.5 423.5h61m35 0h0m49 0h0m8 0h0m32 0h0m12 0h62M51.5 424.5h62m2 0h0m4 0h0m2 0h0m2 0h1m2 0h2m4 0h2m7 0h1m2 0h0m9 0h1m4 0h0m2 0h1m2 0h0m2 0h1m2 0h0m4 0h0m2 0h1m5 0h0m2 0h1m3 0h0m5 0h0m4 0h2m4 0h0m4 0h1m4 0h0m3 0h2m8 0h0m2 0h1m4 0h0m5 0h1m4 0h0m2 0h2m2 0h0m2 0h62M51.5 425.5h61m2 0h19m2 0h28m2 0h13m2 0h0m2 0h6m2 0h0m2 0h0m2 0h1m2 0h1m3 0h3m2 0h0m2 0h4m3 0h0m2 0h4m2 0h0m2 0h2m2 0h6m2 0h3m2 0h3m2 0h63M51.5 426.5h126m2 0h131M51.5 427.5h259M51.5 428.5h259M51.5 429.5h11m2 0h4m2 0h12m2 0h6m3 0h0m2 0h1m2 0h212M52.5 430.5h0m4 0h0m9 0h1m3 0h2m5 0h2m5 0h0m2 0h0m2 0h0m3 0h0m7 0h0m2 0h0m5 0h0m2 0h0m5 0h0m2 0h135m2 0h2m2 0h29m2 0h1m2 0h7m2 0h8m2 0h3M52.5 431.5h0m17 0h0m32 0h0m12 0h135m4 0h0m4 0h0m7 0h1m14 0h1m5 0h1m4 0h0m4 0h0m2 0h0m2 0h1m4 0h2m5 0h1M113.5 432.5h135M113.5 433.5h135M115.5 434.5h7m3 0h3m2 0h0m2 0h1m2 0h2m2 0h4m2 0h1m3 0h2m2 0h8m2 0h0m2 0h5m2 0h0m2 0h4m2 0h7m2 0h25m2 0h31M123.5 435.5h0m10 0h0m18 0h0m4 0h0m10 0h0m4 0h0m3 0h0m5 0h0m2 0h0m2 0h3m2 0h4m2 0h1m4 0h2m3 0h2m2 0h2m4 0h2m3 0h0m2 0h1m2 0h2m4 0h2m2 0h3m2 0h1m4 0h0m2 0h1m2 0h0M175.5 436.5h0m2 0h0m17 0h0m10 0h0M220.5 437.5h0" stroke="#494949" stroke-width="1.5" stroke-linecap="square" fill="none"/>
<path d="M51.5 421.5h0m7 0h0m4 0h2m2 0h0m4 0h0m4 0h3m4 0h0m2 0h0m6 0h0m2 0h0m2 0h0m6 0h0m3 0h0m8 0h0M51.5 422.5h2m3 0h0m3 0h2m2 0h12m2 0h18m2 0h8m2 0h5m143 0h0m11 0h0m16 0h1m13 0h0m10 0h0M51.5 423.5h61m137 0h4m5 0h6m2 0h3m2 0h4m2 0h3m4 0h1m3 0h0m2 0h0m5 0h0m2 0h2m2 0h1m3 0h5M51.5 424.5h61m136 0h62M51.5 425.5h61m136 0h62M51.5 426.5h15m2 0h44m3 0h0m2 0h0m5 0h0m5 0h2m4 0h3m5 0h2m6 0h0m8 0h0m6 0h0m2 0h1m2 0h0m3 0h0m77 0h62M51.5 427.5h1m4 0h0m3 0h0m2 0h0m2 0h2m2 0h2m3 0h2m8 0h4m2 0h0m6 0h1m2 0h2m3 0h3m3 0h1m3 0h10m2 0h2m2 0h12m2 0h1m2 0h7m2 0h0m2 0h8m2 0h0m2 0h11m2 0h0m8 0h1m2 0h2m2 0h0m5 0h0m3 0h3m5 0h2m3 0h3m2 0h1m2 0h3m2 0h2m2 0h2m2 0h2m7 0h5m2 0h15m2 0h39M75.5 428.5h0m17 0h0m7 0h0m11 0h1m2 0h72m2 0h5m2 0h3m2 0h4m2 0h4m2 0h3m2 0h1m2 0h36m2 0h0m3 0h2m2 0h3m2 0h6m2 0h8m2 0h3m3 0h0m3 0h4m4 0h6M113.5 429.5h135m6 0h0m7 0h0m3 0h0m9 0h0m4 0h0m3 0h0m9 0h0m7 0h0m3 0h0m5 0h1M113.5 430.5h134M113.5 431.5h27m2 0h4m2 0h62m2 0h7m2 0h17m2 0h7M113.5 432.5h2m2 0h0m4 0h1m2 0h0m2 0h0m2 0h0m7 0h1m2 0h0m3 0h1m2 0h0m2 0h1m2 0h1m2 0h1m2 0h0m2 0h1m2 0h0m2 0h0m2 0h0m8 0h0m4 0h15m2 0h9m2 0h14m2 0h19m2 0h6M147.5 433.5h0m2 0h0m30 0h2m6 0h0m3 0h0m2 0h0m4 0h1m2 0h0m5 0h1m9 0h0m3 0h0m3 0h0m5 0h0m2 0h0m3 0h1m3 0h0m4 0h0m2 0h1m4 0h1" stroke="#2f2f2f" stroke-width="1.5" stroke-linecap="square" fill="none"/>
<path d="M168.5 281.5h0M166.5 294.5h0M140.5 307.5h0M138.5 309.5h0M141.5 313.5h0M174.5 315.5h0M130.5 317.5h0m11 0h0M120.5 320.5h0m12 0h0m38 0h0M163.5 321.5h0m8 0h0M141.5 322.5h0M117.5 323.5h0m4 0h0M139.5 325.5h0m36 0h0M114.5 326.5h0M136.5 327.5h0m21 0h0M115.5 329.5h0m15 0h0m12 0h0M134.5 330.5h0M124.5 331.5h0m35 0h0m10 0h0m3 0h0M126.5 332.5h0M130.5 333.5h0m7 0h0m19 0h0m11 0h0m4 0h1M119.5 334.5h0m10 0h0m2 0h0m31 0h0m6 0h0M113.5 335.5h0m2 0h0m17 0h0m7 0h0m7 0h0m6 0h0m11 0h1M127.5 336.5h0m4 0h0m14 0h1m5 0h0m20 0h0M120.5 337.5h0m23 0h0m2 0h0m22 0h0m2 0h0m2 0h0M136.5 338.5h0m2 0h3m9 0h0m24 0h0M119.5 339.5h0m4 0h1m4 0h0m11 0h0m3 0h0m7 0h0m2 0h0m5 0h0m9 0h1m8 0h1M127.5 340.5h0m3 0h0m14 0h0m12 0h0m4 0h0m12 0h0m3 0h0m57 0h0M117.5 341.5h0m5 0h0m6 0h1m2 0h0m12 0h1m10 0h0m2 0h1m5 0h0m6 0h0m2 0h0M119.5 342.5h0m11 0h1m6 0h0m3 0h0m5 0h1m2 0h0m3 0h0m6 0h0m9 0h0m4 0h0M114.5 343.5h1m17 0h1m4 0h0m2 0h0m2 0h0m9 0h0m6 0h0m11 0h1m3 0h0m2 0h0m2 0h0M115.5 344.5h0m7 0h1m4 0h0m2 0h0m3 0h0m6 0h0m12 0h0m4 0h0m4 0h2m3 0h0m2 0h0m2 0h0M115.5 345.5h0m4 0h0m5 0h0m2 0h0m3 0h0m2 0h1m6 0h0m4 0h0m9 0h0m4 0h1m2 0h0m2 0h0m4 0h1m2 0h1m2 0h0m18 0h0M114.5 346.5h0m14 0h2m2 0h0m2 0h0m2 0h1m2 0h0m2 0h1m4 0h3m2 0h1m3 0h1m4 0h3m5 0h0m3 0h0m29 0h0M114.5 347.5h0m2 0h0m3 0h1m7 0h0m3 0h1m2 0h0m2 0h0m2 0h0m4 0h0m3 0h2m10 0h0m5 0h1m3 0h0m5 0h1m7 0h0M116.5 348.5h0m2 0h0m3 0h0m2 0h0m2 0h0m3 0h0m16 0h1m2 0h3m12 0h1m3 0h2m2 0h1m37 0h0M116.5 349.5h0m2 0h0m13 0h0m3 0h0m3 0h2m2 0h0m2 0h3m4 0h0m6 0h0m3 0h1m2 0h1m6 0h1m4 0h0M122.5 350.5h0m8 0h0m4 0h0m4 0h2m4 0h0m3 0h0m2 0h0m2 0h8m2 0h0m4 0h0m2 0h2m2 0h0m2 0h0m2 0h0M114.5 351.5h0m2 0h1m12 0h0m3 0h0m8 0h0m3 0h0m6 0h0m2 0h2m2 0h0m4 0h1m2 0h1m2 0h0m6 0h1m37 0h0M117.5 352.5h1m3 0h1m2 0h0m2 0h0m3 0h1m4 0h0m4 0h0m4 0h1m4 0h2m4 0h0m9 0h8m3 0h0m27 0h0M118.5 353.5h1m2 0h0m2 0h0m4 0h0m6 0h0m2 0h0m5 0h1m3 0h0m3 0h0m2 0h1m7 0h0m5 0h0m2 0h1m2 0h0m2 0h0m2 0h1m33 0h0m25 0h0m11 0h0M115.5 354.5h2m2 0h0m2 0h0m4 0h0m4 0h0m3 0h0m2 0h0m2 0h3m2 0h2m3 0h0m3 0h0m6 0h5m2 0h0m3 0h1m2 0h0m4 0h0m2 0h0m48 0h0m15 0h0M113.5 355.5h0m4 0h2m4 0h0m3 0h1m3 0h0m3 0h0m2 0h0m6 0h0m6 0h0m2 0h0m3 0h0m2 0h0m2 0h0m4 0h1m2 0h1m3 0h0m2 0h0m3 0h1m9 0h0m2 0h0m7 0h0m22 0h0m24 0h0M115.5 356.5h0m5 0h1m3 0h1m6 0h1m2 0h1m7 0h0m2 0h3m4 0h0m3 0h7m3 0h2m8 0h0m70 0h0M118.5 357.5h0m4 0h0m9 0h0m3 0h0m5 0h0m2 0h1m3 0h1m3 0h2m5 0h0m6 0h0m3 0h0m3 0h0m4 0h0m4 0h0m4 0h0M114.5 358.5h0m2 0h0m6 0h0m2 0h0m2 0h0m3 0h0m2 0h0m3 0h0m5 0h0m2 0h0m6 0h0m2 0h0m3 0h0m3 0h1m4 0h0m2 0h0m3 0h3m6 0h0m17 0h0M120.5 359.5h0m9 0h0m4 0h0m4 0h0m8 0h0m4 0h0m2 0h0m3 0h3m3 0h0m2 0h2m6 0h0m3 0h0m3 0h0m15 0h0m27 0h0m17 0h0M116.5 360.5h3m3 0h1m3 0h0m5 0h0m2 0h0m5 0h0m4 0h0m2 0h1m4 0h3m5 0h0m6 0h0m3 0h0m2 0h0m2 0h1m2 0h1m3 0h0M115.5 361.5h0m2 0h0m2 0h0m22 0h0m3 0h0m9 0h0m7 0h1m8 0h0m70 0h0m3 0h0M115.5 362.5h0m2 0h0m7 0h0m8 0h0m2 0h0m3 0h1m4 0h0m4 0h0m4 0h0m5 0h0m9 0h0m4 0h0m4 0h0m47 0h0m7 0h0M114.5 363.5h1m4 0h0m3 0h0m3 0h2m4 0h0m3 0h0m21 0h1m3 0h1m3 0h0m7 0h2m2 0h0m68 0h0M118.5 364.5h0m7 0h0m14 0h0m4 0h0m5 0h0m3 0h1m3 0h0m22 0h0m2 0h0m27 0h0m17 0h0M114.5 365.5h0m2 0h0m4 0h0m2 0h1m2 0h0m4 0h0m3 0h0m20 0h0m4 0h0m3 0h0m2 0h0m4 0h0m8 0h1m19 0h0M119.5 366.5h0m7 0h0m5 0h2m11 0h0m13 0h0m11 0h2m10 0h0m12 0h0m20 0h0m16 0h0M123.5 367.5h0m8 0h0m12 0h1m3 0h0m6 0h0m6 0h1m2 0h0m2 0h0m4 0h1m3 0h0m16 0h0m7 0h0m40 0h0M114.5 368.5h0m20 0h0m2 0h0m4 0h0m5 0h0m10 0h0m4 0h0m10 0h0M116.5 369.5h0m9 0h0m15 0h0m5 0h0m12 0h0m5 0h0m78 0h0M120.5 370.5h0m8 0h0m6 0h1m12 0h0m6 0h0m5 0h0m7 0h0m6 0h0m8 0h0m22 0h0M119.5 371.5h0m5 0h0m12 0h0m30 0h0M123.5 372.5h0m20 0h0m11 0h0m13 0h0m20 0h0M116.5 373.5h0m11 0h0m5 0h0m10 0h0m6 0h1m14 0h0m2 0h0m2 0h0m5 0h0M138.5 374.5h0m5 0h0m5 0h0m14 0h0m3 0h0m8 0h0m12 0h0m22 0h0m26 0h0M174.5 375.5h0m3 0h0m13 0h0M126.5 376.5h1m5 0h0m8 0h0m2 0h0m3 0h1m2 0h0m20 0h0m9 0h0m52 0h0M118.5 377.5h1m34 0h0m3 0h1m7 0h0m8 0h0m25 0h0m6 0h0M124.5 378.5h0m2 0h1m4 0h3m9 0h0m16 0h2m11 0h0M117.5 379.5h0m5 0h0m31 0h0m10 0h0M115.5 380.5h0m15 0h0m3 0h0m4 0h1m6 0h0m2 0h1m7 0h0m7 0h0m5 0h0M145.5 381.5h0m10 0h0m3 0h0m5 0h0m6 0h0m2 0h0m10 0h0M138.5 382.5h1M143.5 383.5h0m18 0h0m4 0h0m10 0h0M128.5 384.5h0M166.5 385.5h0m10 0h0m13 0h0M160.5 386.5h0M124.5 387.5h0m57 0h0m14 0h0m11 0h0M121.5 388.5h1m13 0h0M142.5 389.5h0m7 0h1m7 0h0M114.5 390.5h0m42 0h0M117.5 391.5h0m7 0h0m4 0h0m15 0h0m16 0h0m5 0h0m11 0h0M160.5 392.5h0m18 0h0m18 0h0m44 0h0M162.5 393.5h0m6 0h0m30 0h0M114.5 394.5h0m4 0h0m27 0h0M138.5 395.5h0m21 0h1m3 0h0m11 0h0M135.5 396.5h0m9 0h0m6 0h0M212.5 397.5h0M171.5 398.5h0m3 0h0m15 0h0M122.5 399.5h0m61 0h0m27 0h0M150.5 400.5h1m29 0h0m13 0h0m24 0h0M130.5 401.5h0m21 0h0m19 0h0m9 0h0M157.5 402.5h0m31 0h0m55 0h0M131.5 403.5h0m54 0h0m16 0h0m17 0h0M157.5 404.5h0m5 0h0m4 0h0m7 0h0m13 0h0M123.5 406.5h0m11 0h0m37 0h0m6 0h0M124.5 407.5h0m65 0h0M120.5 408.5h0m23 0h0m31 0h0m7 0h0m35 0h0M143.5 409.5h0m2 0h0m9 0h0M116.5 410.5h0m3 0h0m79 0h0M114.5 411.5h0m17 0h0m6 0h0m44 0h0m27 0h1M154.5 412.5h0m32 0h0m40 0h0M123.5 413.5h0m44 0h0m11 0h0M130.5 414.5h0m4 0h0m20 0h1m28 0h0M121.5 415.5h0m3 0h0m15 0h0m5 0h0m7 0h1m3 0h1m3 0h0m3 0h0M150.5 416.5h0m20 0h0M131.5 417.5h1m3 0h0M116.5 418.5h0m48 0h0m2 0h0m3 0h0m4 0h0M118.5 419.5h0m9 0h0m17 0h0m22 0h0m3 0h0M130.5 420.5h0m10 0h0m6 0h0m6 0h0m14 0h0M134.5 421.5h0m14 0h0m16 0h0" stroke="#1a78d4" stroke-width="1.5" stroke-linecap="square" fill="none"/>
<path d="M61.3 320.5h0M56.4 330.4h0M55.2 331h0M58.2 334.2h0M57.8 338.2h0M66 330.2h0M67.4 337.7h0M71 325h0M72.2 325h0M77.1 335h0M81 330.7h0M82.3 326h0M82.3 327.2h0M85.8 311.4h0M86.2 332h0M89.9 329h0M95.1 329.8h0M96 340.7h0M99 326.8h0M102.5 329.3h0M105.1 329h0M109.8 336.8h0M70.5 399.5h0M74.5 397h0M106.5 395.5h0M98 383.3h0M106.5 401h0" stroke="#1a78d4" stroke-width="1.5" stroke-linecap="square" fill="none"/>
<path d="M250.6 322.8h0M249.9 342.4h0M268 327.1h0M273.8 327.9h0M293.9 322.3h0M290.1 337.4h0M302.7 290.7h0M301.9 304.7h0M259.4 358h0M280 359.3h0M274.5 365.6h0M260.4 373.1h0M286.3 381.9h0M309.7 382.6h0M284.8 384h0M290.1 388.4h0M308.3 392.1h0M254.7 392.1h0M270.6 396.6h0M273.7 400.7h0M269.6 404.4h0M295.6 403.4h0M294.2 405h0M252.1 406.8h0M265.5 410.9h0M246.9 337.4h0" stroke="#1a78d4" stroke-width="1.5" stroke-linecap="square" fill="none"/>
</g>
<path d="M113.9 422H175.2" stroke="#cf2fd0" stroke-width="1.7" fill="none"/>
<path d="M176.6 416.7H247.6" stroke="#cf2fd0" stroke-width="1.7" fill="none"/>
<path d="M249 412.1H310.8" stroke="#cf2fd0" stroke-width="1.7" fill="none"/>
<path d="M47.2 274.5H312.1" stroke="#b4b4b4" stroke-width="1.0" fill="none"/>
<path d="M311.6 274.5V489" stroke="#9c9c9c" stroke-width="1.0" fill="none"/>
<path d="M50.2 274.5V486.5H312.1" stroke="#8c8c8c" stroke-width="1.2" fill="none"/>
<path d="M50.2 484v5M50.2 274.5v2.5M91.9 484v5M91.9 274.5v2.5M133.5 484v5M133.5 274.5v2.5M175.2 484v5M175.2 274.5v2.5M216.8 484v5M216.8 274.5v2.5M258.5 484v5M258.5 274.5v2.5M300.1 484v5M300.1 274.5v2.5M47.5 486.5h5M311.6 486.5h-2.5M47.5 460h5M311.6 460h-2.5M47.5 433.5h5M311.6 433.5h-2.5M47.5 407h5M311.6 407h-2.5M47.5 380.5h5M311.6 380.5h-2.5M47.5 354h5M311.6 354h-2.5M47.5 327.5h5M311.6 327.5h-2.5M47.5 301h5M311.6 301h-2.5M47.5 274.5h5M311.6 274.5h-2.5" stroke="#6e6e6e" stroke-width="1.1" fill="none"/>
<text x="49.9" y="499.4" font-size="7.6" text-anchor="middle" font-weight="bold" fill="#222" textLength="4.2" lengthAdjust="spacingAndGlyphs">0</text>
<text x="91.6" y="499.4" font-size="7.6" text-anchor="middle" font-weight="bold" fill="#222" textLength="20.8" lengthAdjust="spacingAndGlyphs">10000</text>
<text x="133.2" y="499.4" font-size="7.6" text-anchor="middle" font-weight="bold" fill="#222" textLength="20.8" lengthAdjust="spacingAndGlyphs">20000</text>
<text x="174.9" y="499.4" font-size="7.6" text-anchor="middle" font-weight="bold" fill="#222" textLength="20.8" lengthAdjust="spacingAndGlyphs">30000</text>
<text x="216.5" y="499.4" font-size="7.6" text-anchor="middle" font-weight="bold" fill="#222" textLength="20.8" lengthAdjust="spacingAndGlyphs">40000</text>
<text x="258.2" y="499.4" font-size="7.6" text-anchor="middle" font-weight="bold" fill="#222" textLength="20.8" lengthAdjust="spacingAndGlyphs">50000</text>
<text x="299.8" y="499.4" font-size="7.6" text-anchor="middle" font-weight="bold" fill="#222" textLength="20.8" lengthAdjust="spacingAndGlyphs">60000</text>
<text x="32.5" y="489.4" font-size="7.6" text-anchor="middle" font-weight="bold" fill="#222" textLength="4.2" lengthAdjust="spacingAndGlyphs">0</text>
<text x="32.5" y="462.9" font-size="7.6" text-anchor="middle" font-weight="bold" fill="#222" textLength="16.6" lengthAdjust="spacingAndGlyphs">2000</text>
<text x="32.5" y="436.4" font-size="7.6" text-anchor="middle" font-weight="bold" fill="#222" textLength="16.6" lengthAdjust="spacingAndGlyphs">4000</text>
<text x="32.5" y="409.9" font-size="7.6" text-anchor="middle" font-weight="bold" fill="#222" textLength="16.6" lengthAdjust="spacingAndGlyphs">6000</text>
<text x="32.5" y="383.4" font-size="7.6" text-anchor="middle" font-weight="bold" fill="#222" textLength="16.6" lengthAdjust="spacingAndGlyphs">8000</text>
<text x="32.5" y="356.9" font-size="7.6" text-anchor="middle" font-weight="bold" fill="#222" textLength="20.8" lengthAdjust="spacingAndGlyphs">10000</text>
<text x="32.5" y="330.4" font-size="7.6" text-anchor="middle" font-weight="bold" fill="#222" textLength="20.8" lengthAdjust="spacingAndGlyphs">12000</text>
<text x="32.5" y="303.9" font-size="7.6" text-anchor="middle" font-weight="bold" fill="#222" textLength="20.8" lengthAdjust="spacingAndGlyphs">14000</text>
<text x="32.5" y="277.4" font-size="7.6" text-anchor="middle" font-weight="bold" fill="#222" textLength="20.8" lengthAdjust="spacingAndGlyphs">16000</text>
<text x="119.7" y="265.5" font-size="8.3" text-anchor="start" font-weight="normal" fill="#1e1e1e" textLength="88.6" lengthAdjust="spacingAndGlyphs" word-spacing="-1.3" stroke="#1e1e1e" stroke-width="0.35">Ch1 Pos:1091 Neg:61485</text>
<text x="16.3" y="380.5" font-size="8" text-anchor="middle" font-weight="normal" fill="#1e1e1e" textLength="50.5" lengthAdjust="spacingAndGlyphs" transform="rotate(-90 16.3 380.5)" stroke="#1e1e1e" stroke-width="0.2">Ch1 Amplitude</text>
<text x="180.7" y="510.9" font-size="8" text-anchor="middle" font-weight="bold" fill="#1e1e1e" textLength="48.2" lengthAdjust="spacingAndGlyphs">Event Number</text>
<text x="67.1" y="292.2" font-size="9.2" text-anchor="start" font-weight="bold" fill="#1e1e1e" textLength="36.3" lengthAdjust="spacingAndGlyphs" stroke="#1e1e1e" stroke-width="0.25">Negative</text>
<text x="69.7" y="304.4" font-size="9.2" text-anchor="start" font-weight="bold" fill="#1e1e1e" textLength="30.7" lengthAdjust="spacingAndGlyphs" stroke="#1e1e1e" stroke-width="0.25">Control</text>
<text x="144.5" y="293.5" font-size="10.4" text-anchor="start" font-weight="bold" fill="#1e1e1e" textLength="10.3" lengthAdjust="spacingAndGlyphs" stroke="#1e1e1e" stroke-width="0.25">S1</text>
<text x="209.2" y="293.5" font-size="10.4" text-anchor="start" font-weight="bold" fill="#1e1e1e" textLength="10.5" lengthAdjust="spacingAndGlyphs" stroke="#1e1e1e" stroke-width="0.25">S2</text>
<text x="276.8" y="293.5" font-size="10.4" text-anchor="start" font-weight="bold" fill="#1e1e1e" textLength="10.7" lengthAdjust="spacingAndGlyphs" stroke="#1e1e1e" stroke-width="0.25">S3</text>
<text x="113.4" y="464.1" font-size="9.4" text-anchor="start" font-weight="bold" fill="#1e1e1e" textLength="144.9" lengthAdjust="spacingAndGlyphs" stroke="#1e1e1e" stroke-width="0.25">STREPTOCOCCUS SP. BACTERIA</text>
<text x="83.2" y="477.4" font-size="9.4" text-anchor="start" font-weight="bold" fill="#1e1e1e" textLength="206.5" lengthAdjust="spacingAndGlyphs" stroke="#1e1e1e" stroke-width="0.25">THE GRAPH OF ABSOLUTE QUANTIFICATION</text>
<text x="297.6" y="410.6" font-size="5.6" text-anchor="start" font-weight="normal" fill="#333" textLength="12.5" lengthAdjust="spacingAndGlyphs">5618</text>
<rect x="394.9" y="13.7" width="272.8" height="216.2" fill="#f6f6f6"/>
<path d="M449.5 13.7V229.9M504 13.7V229.9M558.6 13.7V229.9M613.1 13.7V229.9M394.9 205.9H667.7M394.9 181.9H667.7M394.9 157.8H667.7M394.9 133.8H667.7M394.9 109.8H667.7M394.9 85.8H667.7M394.9 61.7H667.7M394.9 37.7H667.7" stroke="#e5e5e5" stroke-width="1" fill="none"/>
<path d="M398 229.9L398 229.77L398.5 229.78L399 229.78L399.5 229.78L400 229.78L400.5 229.77L401 229.78L401.5 229.77L402 229.77L402.5 229.76L403 229.77L403.5 229.77L404 229.76L404.5 229.76L405 229.76L405.5 229.76L406 229.76L406.5 229.76L407 229.75L407.5 229.75L408 229.75L408.5 229.74L409 229.75L409.5 229.75L410 229.74L410.5 229.74L411 229.73L411.5 229.74L412 229.74L412.5 229.73L413 229.74L413.5 229.73L414 229.73L414.5 229.73L415 229.73L415.5 229.72L416 229.73L416.5 229.72L417 229.72L417.5 229.72L418 229.71L418.5 229.71L419 229.71L419.5 229.71L420 229.71L420.5 229.7L421 229.7L421.5 229.7L422 229.7L422.5 229.69L423 229.69L423.5 229.7L424 229.69L424.5 229.68L425 229.69L425.5 229.69L426 229.68L426.5 229.69L427 229.67L427.5 229.67L428 229.68L428.5 229.67L429 229.67L429.5 229.66L430 229.67L430.5 229.66L431 229.64L431.5 229.63L432 229.64L432.5 229.62L433 229.6L433.5 229.6L434 229.57L434.5 229.58L435 229.56L435.5 229.56L436 229.52L436.5 229.52L437 229.51L437.5 229.51L438 229.46L438.5 229.46L439 229.44L439.5 229.42L440 229.42L440.5 229.39L441 229.36L441.5 229.32L442 229.24L442.5 229.25L443 229.19L443.5 229.13L444 229.06L444.5 229L445 228.98L445.5 228.92L446 228.8L446.5 228.69L447 228.62L447.5 228.55L448 228.47L448.5 228.03L449 227.54L449.5 226.77L450 226.06L450.5 224.83L451 223.43L451.5 221.56L452 220L452.5 217.3L453 215.23L453.5 212.34L454 210.87L454.5 206.01L455 201.74L455.5 195.35L456 192.05L456.5 180.26L457 171.9L457.5 166.34L458 154.71L458.5 141.33L459 125.16L459.5 109.75L460 89.02L460.5 80.67L461 64.79L461.5 57.29L462 37.8L462.5 35.13L463 37.36L463.5 66.17L464 81.69L464.5 106.86L465 121.66L465.5 145.23L466 164.37L466.5 177.97L467 187.35L467.5 197.14L468 203.95L468.5 208.3L469 211.63L469.5 216.41L470 219.22L470.5 221.58L471 223.47L471.5 224.55L472 225.7L472.5 226.78L473 227.45L473.5 227.5L474 227.51L474.5 227.8L475 227.65L475.5 227.57L476 227.75L476.5 227.72L477 227.81L477.5 227.73L478 227.48L478.5 227.78L479 227.74L479.5 227.52L480 227.57L480.5 227.26L481 228.23L481.5 227.41L482 227.74L482.5 227.54L483 227.31L483.5 227.2L484 227.18L484.5 227.39L485 226.93L485.5 227.45L486 227.37L486.5 227.05L487 227.43L487.5 226.54L488 226.86L488.5 226.44L489 227.11L489.5 227.18L490 226.96L490.5 226.72L491 227.11L491.5 226.73L492 226.81L492.5 226.17L493 226.93L493.5 226.25L494 226.82L494.5 226.88L495 226.73L495.5 226.86L496 226.27L496.5 225.84L497 226.13L497.5 225.87L498 225.37L498.5 225.88L499 225.84L499.5 225.98L500 226.51L500.5 225.36L501 226.45L501.5 225.24L502 225.48L502.5 224.84L503 225.35L503.5 225.65L504 224.96L504.5 225.3L505 224.85L505.5 224.47L506 224.3L506.5 224.06L507 224.19L507.5 223.45L508 224.56L508.5 222.76L509 223.24L509.5 220.95L510 220.37L510.5 222.9L511 220.54L511.5 220.38L512 220.9L512.5 218.74L513 219.35L513.5 220.42L514 218.09L514.5 217.38L515 216.45L515.5 217.72L516 214.26L516.5 213.19L517 215.39L517.5 213.71L518 211.72L518.5 211.64L519 205.86L519.5 207.85L520 209.39L520.5 208.02L521 205.32L521.5 198.23L522 203.59L522.5 201.66L523 199.37L523.5 199.81L524 191.21L524.5 198.93L525 193.27L525.5 193.86L526 191.21L526.5 197.31L527 185.49L527.5 192.1L528 190.85L528.5 195.15L529 194.8L529.5 190.29L530 189.19L530.5 190.58L531 189.39L531.5 192.19L532 195.56L532.5 193.64L533 195.36L533.5 198.51L534 196.65L534.5 195.74L535 199.8L535.5 202.31L536 199.88L536.5 197.28L537 203.94L537.5 204.28L538 205.04L538.5 201.88L539 210.14L539.5 204.87L540 203.18L540.5 208.51L541 203.25L541.5 205.93L542 208.84L542.5 207.41L543 211.73L543.5 209.81L544 204.78L544.5 211.14L545 205.48L545.5 209.95L546 207.96L546.5 210.26L547 215.24L547.5 212.07L548 210.8L548.5 213.72L549 214.34L549.5 211.27L550 213.47L550.5 215.67L551 214L551.5 211.41L552 214.08L552.5 211.81L553 211.03L553.5 213.88L554 216.09L554.5 216.58L555 214.66L555.5 213.39L556 214.62L556.5 214.39L557 216.17L557.5 215.21L558 216.61L558.5 216.65L559 218.39L559.5 219.06L560 217.79L560.5 218.93L561 218.99L561.5 217.1L562 218.4L562.5 214.88L563 217.67L563.5 219.83L564 218.41L564.5 219.16L565 220.58L565.5 219.03L566 221.41L566.5 224.03L567 220.59L567.5 222.26L568 220.72L568.5 222.9L569 223.61L569.5 221.74L570 224.03L570.5 223.35L571 222.79L571.5 224.05L572 224.49L572.5 224.68L573 224.55L573.5 225.7L574 225.23L574.5 225.5L575 224.96L575.5 226.35L576 226.77L576.5 226.32L577 226.92L577.5 226.91L578 227.17L578.5 227.07L579 227.76L579.5 227.77L580 228.49L580.5 228.24L581 227.88L581.5 228.43L582 228.54L582.5 228.72L583 228.54L583.5 228.69L584 228.93L584.5 228.75L585 228.85L585.5 228.85L586 229.05L586.5 228.86L587 229.04L587.5 229.13L588 229.2L588.5 229.22L589 229.17L589.5 229.29L590 229.22L590.5 229.27L591 229.22L591.5 229.26L592 229.33L592.5 229.46L593 229.32L593.5 229.29L594 229.34L594.5 229.32L595 229.39L595.5 229.39L596 229.43L596.5 229.29L597 229.37L597.5 229.42L598 229.48L598.5 229.41L599 229.32L599.5 229.38L600 229.46L600.5 229.34L601 229.35L601.5 229.38L602 229.39L602.5 229.38L603 229.42L603.5 229.41L604 229.5L604.5 229.38L605 229.46L605.5 229.37L606 229.58L606.5 229.45L607 229.44L607.5 229.51L608 229.47L608.5 229.46L609 229.48L609.5 229.53L610 229.52L610.5 229.47L611 229.46L611.5 229.52L612 229.52L612.5 229.52L613 229.49L613.5 229.59L614 229.6L614.5 229.54L615 229.6L615.5 229.58L616 229.56L616.5 229.54L617 229.61L617.5 229.54L618 229.64L618.5 229.56L619 229.64L619.5 229.63L620 229.56L620.5 229.61L621 229.62L621.5 229.61L622 229.58L622.5 229.61L623 229.61L623.5 229.57L624 229.64L624.5 229.63L625 229.64L625.5 229.58L626 229.59L626.5 229.59L627 229.63L627.5 229.64L628 229.61L628.5 229.65L629 229.62L629.5 229.62L630 229.67L630.5 229.65L631 229.66L631.5 229.61L632 229.59L632.5 229.69L633 229.72L633.5 229.79L634 229.76L634.5 229.78L635 229.81L635.5 229.8L636 229.84L636.5 229.84L637 229.84L637.5 229.86L638 229.85L638.5 229.86L639 229.87L639.5 229.88L640 229.87L640 229.9Z" fill="#3b67d8" filter="url(#b)"/>
<path d="M397 229.3H632" stroke="#4d66b8" stroke-width="0.9" fill="none"/>
<path d="M391.9 13.7H668.3" stroke="#8e8e8e" stroke-width="1.2" fill="none"/>
<path d="M667.7 13.7V232.4" stroke="#8e8e8e" stroke-width="1.2" fill="none"/>
<path d="M394.9 13.7V229.9H668.2" stroke="#9a9a9a" stroke-width="1.5" fill="none"/>
<path d="M394.9 227.4v5M394.9 13.7v2.5M449.5 227.4v5M449.5 13.7v2.5M504 227.4v5M504 13.7v2.5M558.6 227.4v5M558.6 13.7v2.5M613.1 227.4v5M613.1 13.7v2.5M667.7 227.4v5M667.7 13.7v2.5M392.2 229.9h5M667.7 229.9h-2.5M392.2 205.9h5M667.7 205.9h-2.5M392.2 181.9h5M667.7 181.9h-2.5M392.2 157.8h5M667.7 157.8h-2.5M392.2 133.8h5M667.7 133.8h-2.5M392.2 109.8h5M667.7 109.8h-2.5M392.2 85.8h5M667.7 85.8h-2.5M392.2 61.7h5M667.7 61.7h-2.5M392.2 37.7h5M667.7 37.7h-2.5M392.2 13.7h5M667.7 13.7h-2.5" stroke="#6e6e6e" stroke-width="1.1" fill="none"/>
<text x="394.6" y="243" font-size="7.6" text-anchor="middle" font-weight="bold" fill="#222" textLength="4.2" lengthAdjust="spacingAndGlyphs">0</text>
<text x="449.2" y="243" font-size="7.6" text-anchor="middle" font-weight="bold" fill="#222" textLength="16.6" lengthAdjust="spacingAndGlyphs">5000</text>
<text x="503.7" y="243" font-size="7.6" text-anchor="middle" font-weight="bold" fill="#222" textLength="20.8" lengthAdjust="spacingAndGlyphs">10000</text>
<text x="558.3" y="243" font-size="7.6" text-anchor="middle" font-weight="bold" fill="#222" textLength="20.8" lengthAdjust="spacingAndGlyphs">15000</text>
<text x="612.8" y="243" font-size="7.6" text-anchor="middle" font-weight="bold" fill="#222" textLength="20.8" lengthAdjust="spacingAndGlyphs">20000</text>
<text x="667.4" y="243" font-size="7.6" text-anchor="middle" font-weight="bold" fill="#222" textLength="20.8" lengthAdjust="spacingAndGlyphs">25000</text>
<text x="381.2" y="232.8" font-size="7.6" text-anchor="middle" font-weight="bold" fill="#222" textLength="4.2" lengthAdjust="spacingAndGlyphs">0</text>
<text x="381.2" y="208.8" font-size="7.6" text-anchor="middle" font-weight="bold" fill="#222" textLength="12.5" lengthAdjust="spacingAndGlyphs">100</text>
<text x="381.2" y="184.8" font-size="7.6" text-anchor="middle" font-weight="bold" fill="#222" textLength="12.5" lengthAdjust="spacingAndGlyphs">200</text>
<text x="381.2" y="160.7" font-size="7.6" text-anchor="middle" font-weight="bold" fill="#222" textLength="12.5" lengthAdjust="spacingAndGlyphs">300</text>
<text x="381.2" y="136.7" font-size="7.6" text-anchor="middle" font-weight="bold" fill="#222" textLength="12.5" lengthAdjust="spacingAndGlyphs">400</text>
<text x="381.2" y="112.7" font-size="7.6" text-anchor="middle" font-weight="bold" fill="#222" textLength="12.5" lengthAdjust="spacingAndGlyphs">500</text>
<text x="381.2" y="88.7" font-size="7.6" text-anchor="middle" font-weight="bold" fill="#222" textLength="12.5" lengthAdjust="spacingAndGlyphs">600</text>
<text x="381.2" y="64.6" font-size="7.6" text-anchor="middle" font-weight="bold" fill="#222" textLength="12.5" lengthAdjust="spacingAndGlyphs">700</text>
<text x="381.2" y="40.6" font-size="7.6" text-anchor="middle" font-weight="bold" fill="#222" textLength="12.5" lengthAdjust="spacingAndGlyphs">800</text>
<text x="381.2" y="16.6" font-size="7.6" text-anchor="middle" font-weight="bold" fill="#222" textLength="12.5" lengthAdjust="spacingAndGlyphs">900</text>
<text x="482.5" y="7.3" font-size="8.2" text-anchor="start" font-weight="bold" fill="#1e1e1e" textLength="72" lengthAdjust="spacingAndGlyphs">Channel 1 Histogram</text>
<text x="369" y="121.5" font-size="7.2" text-anchor="middle" font-weight="bold" fill="#1e1e1e" textLength="37.5" lengthAdjust="spacingAndGlyphs" transform="rotate(-90 369 121.5)">Frequency</text>
<rect x="396.1" y="272.2" width="267.2" height="214.2" fill="#f6f6f6"/>
<path d="M429.5 272.2V486.4M462.9 272.2V486.4M496.3 272.2V486.4M529.7 272.2V486.4M563.1 272.2V486.4M596.5 272.2V486.4M629.9 272.2V486.4M396.1 455.8H663.3M396.1 425.2H663.3M396.1 394.6H663.3M396.1 364H663.3M396.1 333.4H663.3M396.1 302.8H663.3" stroke="#e5e5e5" stroke-width="1" fill="none"/>
<path d="M452 486.4L452 486.35L452.4 486.28L452.8 486.2L453.2 486.13L453.6 486.05L454 485.98L454.4 485.92L454.8 485.83L455.2 485.13L455.6 483.63L456 482.4L456.4 481.1L456.8 479.75L457.2 478.45L457.6 476.5L458 473.7L458.4 470.8L458.8 468.26L459.2 465.17L459.6 462.83L460 457.03L460.4 447.43L460.8 439.2L461.2 431.28L461.6 419.11L462 403.12L462.4 385.14L462.8 369.05L463.2 346.23L463.6 322.57L464 307.41L464.4 292.45L464.8 299.36L465.2 310.48L465.6 318.7L466 324.25L466.4 339.32L466.8 334.82L467.2 335.76L467.6 333.91L468 325.84L468.4 321.28L468.8 329.51L469.2 336.37L469.6 339.07L470 343.76L470.4 345.25L470.8 351.18L471.2 356.82L471.6 359.63L472 366.6L472.4 372.35L472.8 375.54L473.2 382.43L473.6 390.31L474 397.72L474.4 404.54L474.8 417.15L475.2 423.45L475.6 431.61L476 440.51L476.4 446.67L476.8 454.52L477.2 461.12L477.6 464.42L478 466.34L478.4 468.19L478.8 470.44L479.2 473.48L479.6 475.45L480 477.66L480.4 478.85L480.8 479.7L481.2 481.03L481.6 481.99L482 483.14L482.4 484.12L482.8 485.25L483.2 485.83L483.6 485.91L484 485.97L484.4 486.05L484.8 486.12L485.2 486.2L485.6 486.28L486 486.35L486 486.4Z" fill="#3b67d8" filter="url(#b)"/>
<path d="M548 486.4L548 486.36L548.5 486.31L549 486.19L549.5 486.06L550 485.89L550.5 485.9L551 485.91L551.5 485.87L552 485.52L552.5 485.23L553 485.42L553.5 485.7L554 485.57L554.5 484.74L555 485.06L555.5 485.63L556 484.98L556.5 485.31L557 485.02L557.5 484.89L558 484.91L558.5 484.24L559 484.44L559.5 484.65L560 484.06L560.5 483.75L561 485.07L561.5 484.22L562 484.59L562.5 484.07L563 484.81L563.5 484.13L564 484.24L564.5 484.47L565 484.92L565.5 484.67L566 485.06L566.5 485.25L567 484.65L567.5 485.27L568 484.49L568.5 484.76L569 485.75L569.5 485.11L570 485.59L570.5 485.36L571 485.45L571.5 485.97L572 485.68L572.5 485.74L573 485.6L573.5 485.99L574 485.78L574.5 486.06L575 486.03L575.5 486.13L576 486.01L576.5 486.14L577 486.13L577.5 486.28L578 486.34L578 486.4Z" fill="#3b67d8" filter="url(#b)"/>
<path d="M400 485.8H646" stroke="#4d66b8" stroke-width="0.9" fill="none"/>
<path d="M393.1 272.2H663.8" stroke="#9a9a9a" stroke-width="1.0" fill="none"/>
<path d="M663.3 272.2V488.9" stroke="#9a9a9a" stroke-width="1.0" fill="none"/>
<path d="M396.1 272.2V486.4H663.8" stroke="#8c8c8c" stroke-width="1.1" fill="none"/>
<path d="M396.1 483.9v5M396.1 272.2v2.5M429.5 483.9v5M429.5 272.2v2.5M462.9 483.9v5M462.9 272.2v2.5M496.3 483.9v5M496.3 272.2v2.5M529.7 483.9v5M529.7 272.2v2.5M563.1 483.9v5M563.1 272.2v2.5M596.5 483.9v5M596.5 272.2v2.5M629.9 483.9v5M629.9 272.2v2.5M663.3 483.9v5M663.3 272.2v2.5M393.4 486.4h5M663.3 486.4h-2.5M393.4 455.8h5M663.3 455.8h-2.5M393.4 425.2h5M663.3 425.2h-2.5M393.4 394.6h5M663.3 394.6h-2.5M393.4 364h5M663.3 364h-2.5M393.4 333.4h5M663.3 333.4h-2.5M393.4 302.8h5M663.3 302.8h-2.5M393.4 272.2h5M663.3 272.2h-2.5" stroke="#6e6e6e" stroke-width="1.1" fill="none"/>
<text x="395.8" y="499.4" font-size="7.6" text-anchor="middle" font-weight="bold" fill="#222" textLength="4.2" lengthAdjust="spacingAndGlyphs">0</text>
<text x="429.2" y="499.4" font-size="7.6" text-anchor="middle" font-weight="bold" fill="#222" textLength="16.6" lengthAdjust="spacingAndGlyphs">2000</text>
<text x="462.6" y="499.4" font-size="7.6" text-anchor="middle" font-weight="bold" fill="#222" textLength="16.6" lengthAdjust="spacingAndGlyphs">4000</text>
<text x="496" y="499.4" font-size="7.6" text-anchor="middle" font-weight="bold" fill="#222" textLength="16.6" lengthAdjust="spacingAndGlyphs">6000</text>
<text x="529.4" y="499.4" font-size="7.6" text-anchor="middle" font-weight="bold" fill="#222" textLength="16.6" lengthAdjust="spacingAndGlyphs">8000</text>
<text x="562.8" y="499.4" font-size="7.6" text-anchor="middle" font-weight="bold" fill="#222" textLength="20.8" lengthAdjust="spacingAndGlyphs">10000</text>
<text x="596.2" y="499.4" font-size="7.6" text-anchor="middle" font-weight="bold" fill="#222" textLength="20.8" lengthAdjust="spacingAndGlyphs">12000</text>
<text x="629.6" y="499.4" font-size="7.6" text-anchor="middle" font-weight="bold" fill="#222" textLength="20.8" lengthAdjust="spacingAndGlyphs">14000</text>
<text x="663" y="499.4" font-size="7.6" text-anchor="middle" font-weight="bold" fill="#222" textLength="20.8" lengthAdjust="spacingAndGlyphs">16000</text>
<text x="381.2" y="489.3" font-size="7.6" text-anchor="middle" font-weight="bold" fill="#222" textLength="4.2" lengthAdjust="spacingAndGlyphs">0</text>
<text x="381.2" y="458.7" font-size="7.6" text-anchor="middle" font-weight="bold" fill="#222" textLength="12.5" lengthAdjust="spacingAndGlyphs">200</text>
<text x="381.2" y="428.1" font-size="7.6" text-anchor="middle" font-weight="bold" fill="#222" textLength="12.5" lengthAdjust="spacingAndGlyphs">400</text>
<text x="381.2" y="397.5" font-size="7.6" text-anchor="middle" font-weight="bold" fill="#222" textLength="12.5" lengthAdjust="spacingAndGlyphs">600</text>
<text x="381.2" y="366.9" font-size="7.6" text-anchor="middle" font-weight="bold" fill="#222" textLength="12.5" lengthAdjust="spacingAndGlyphs">800</text>
<text x="381.2" y="336.3" font-size="7.6" text-anchor="middle" font-weight="bold" fill="#222" textLength="16.6" lengthAdjust="spacingAndGlyphs">1000</text>
<text x="381.2" y="305.7" font-size="7.6" text-anchor="middle" font-weight="bold" fill="#222" textLength="16.6" lengthAdjust="spacingAndGlyphs">1200</text>
<text x="381.2" y="275.1" font-size="7.6" text-anchor="middle" font-weight="bold" fill="#222" textLength="16.6" lengthAdjust="spacingAndGlyphs">1400</text>
<text x="478" y="265.5" font-size="8.2" text-anchor="start" font-weight="bold" fill="#1e1e1e" textLength="72" lengthAdjust="spacingAndGlyphs">Channel 1 Histogram</text>
<text x="366.9" y="379.2" font-size="7.2" text-anchor="middle" font-weight="bold" fill="#1e1e1e" textLength="36.8" lengthAdjust="spacingAndGlyphs" transform="rotate(-90 366.9 379.2)">Frequency</text>
<text x="529" y="511.4" font-size="8" text-anchor="middle" font-weight="bold" fill="#1e1e1e" textLength="32" lengthAdjust="spacingAndGlyphs">Amplitude</text>
<g transform="translate(345.7 6.7)" filter="url(#b2)"><rect x="0.3" y="0.2" width="4.2" height="5.4" fill="#e8f0fb" stroke="#a9c3ea" stroke-width="0.9"/><path d="M0.3 5.3h4" stroke="#7f9cc8" stroke-width="0.8"/><rect x="4.2" y="1.6" width="5" height="5.4" fill="#dfe9fb" stroke="#5f8ade" stroke-width="1.1"/><path d="M4 7h5.4" stroke="#4766a8" stroke-width="0.9"/><rect x="1.6" y="10.4" width="5.6" height="3.2" fill="#fff" stroke="#c2c4c8" stroke-width="0.7"/><rect x="-1" y="13.2" width="10.4" height="4" rx="1.2" fill="#c3c7cd" stroke="#a9adb5" stroke-width="0.5"/><path d="M-0.6 16.9h9.6" stroke="#6a7480" stroke-width="0.9"/><rect x="1.2" y="17.4" width="6" height="1.8" rx="0.8" fill="#b4d0ec"/></g>
<g transform="translate(343.8 264.8)" filter="url(#b2)"><rect x="0.3" y="0.2" width="4.2" height="5.4" fill="#e8f0fb" stroke="#a9c3ea" stroke-width="0.9"/><path d="M0.3 5.3h4" stroke="#7f9cc8" stroke-width="0.8"/><rect x="4.2" y="1.6" width="5" height="5.4" fill="#dfe9fb" stroke="#5f8ade" stroke-width="1.1"/><path d="M4 7h5.4" stroke="#4766a8" stroke-width="0.9"/><rect x="1.6" y="10.4" width="5.6" height="3.2" fill="#fff" stroke="#c2c4c8" stroke-width="0.7"/><rect x="-1" y="13.2" width="10.4" height="4" rx="1.2" fill="#c3c7cd" stroke="#a9adb5" stroke-width="0.5"/><path d="M-0.6 16.9h9.6" stroke="#6a7480" stroke-width="0.9"/><rect x="1.2" y="17.4" width="6" height="1.8" rx="0.8" fill="#b4d0ec"/></g>
<defs><linearGradient id="gs" x1="0" y1="0" x2="0" y2="1"><stop offset="0" stop-color="#fafafa"/><stop offset="1" stop-color="#dedede"/></linearGradient></defs>
<rect x="0" y="512.6" width="685" height="3.4" fill="url(#gs)"/>
<rect x="0" y="0" width="685" height="1.2" fill="#f6f6f6"/></svg>
</body></html>
